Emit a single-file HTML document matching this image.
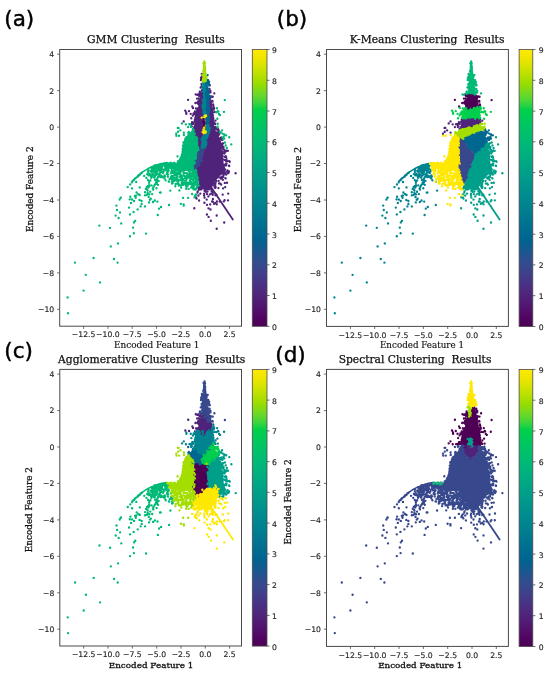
<!DOCTYPE html>
<html><head><meta charset="utf-8"><title>Clustering Results</title>
<style>html,body{margin:0;padding:0;background:#fff}svg{display:block}</style></head>
<body>
<svg width="550" height="673" viewBox="0 0 550 673">
<defs><linearGradient id="vir" x1="0" y1="1" x2="0" y2="0">
<stop offset="0.0000" stop-color="#4e0055"/>
<stop offset="0.0312" stop-color="#510562"/>
<stop offset="0.0625" stop-color="#52116d"/>
<stop offset="0.0938" stop-color="#511d76"/>
<stop offset="0.1250" stop-color="#4e297e"/>
<stop offset="0.1562" stop-color="#483385"/>
<stop offset="0.1875" stop-color="#413e89"/>
<stop offset="0.2188" stop-color="#37488c"/>
<stop offset="0.2500" stop-color="#29518e"/>
<stop offset="0.2812" stop-color="#125a90"/>
<stop offset="0.3125" stop-color="#006390"/>
<stop offset="0.3438" stop-color="#006b91"/>
<stop offset="0.3750" stop-color="#007391"/>
<stop offset="0.4062" stop-color="#007b90"/>
<stop offset="0.4375" stop-color="#008390"/>
<stop offset="0.4688" stop-color="#008a8f"/>
<stop offset="0.5000" stop-color="#00928d"/>
<stop offset="0.5312" stop-color="#009a8b"/>
<stop offset="0.5625" stop-color="#00a188"/>
<stop offset="0.5938" stop-color="#00a984"/>
<stop offset="0.6250" stop-color="#00b07e"/>
<stop offset="0.6562" stop-color="#00b778"/>
<stop offset="0.6875" stop-color="#00be6f"/>
<stop offset="0.7188" stop-color="#00c465"/>
<stop offset="0.7500" stop-color="#00ca59"/>
<stop offset="0.7812" stop-color="#00d04b"/>
<stop offset="0.8125" stop-color="#46d53a"/>
<stop offset="0.8438" stop-color="#73d923"/>
<stop offset="0.8750" stop-color="#97dd00"/>
<stop offset="0.9062" stop-color="#b7e000"/>
<stop offset="0.9375" stop-color="#d4e300"/>
<stop offset="0.9688" stop-color="#efe600"/>
<stop offset="1.0000" stop-color="#ffe800"/>
</linearGradient></defs>
<rect width="550" height="673" fill="#fff"/>
<g id="panel-a">
<path d="M202.6 128.6L205.1 128.6L205.1 117.6L202.6 117.6Z" fill="#4e0055" stroke="#4e0055" stroke-width="0.5"/>
<path d="M205.1 128.6L202.6 128.6L202.6 133.4L205.9 133.4L205.9 115.4L202.6 115.4L202.6 117.6L205.1 117.6Z" fill="#ffe800" stroke="#ffe800" stroke-width="0.5"/>
<path d="M203.6 77.5L203.4 81.6L206.2 81.6L206.2 78.7L206.0 77.6L204.6 70.3L204.6 70.2L204.4 68.2L204.2 70.2L204.2 70.2Z" fill="#a3de00" stroke="#a3de00" stroke-width="0.5"/>
<path d="M207.6 87.3L207.6 87.3L206.2 78.7L206.2 81.6L205.3 81.6L205.3 115.4L205.9 115.4L205.9 124.1L209.5 124.1L209.6 107.1L209.5 97.3Z" fill="#006890" stroke="#006890" stroke-width="0.5"/>
<path d="M203.1 87.4L202.5 89.6L202.5 115.4L202.6 115.4L205.3 115.4L205.3 81.6L203.4 81.6L203.1 87.2L203.1 87.3Z" fill="#008490" stroke="#008490" stroke-width="0.5"/>
<path d="M205.9 124.1L205.9 133.4L205.7 133.4L202.1 136.8L201.5 143.5L199.8 148.1L204.8 148.1L206.1 143.5L208.2 136.8L209.8 133.1L209.5 124.1Z" fill="#008490" stroke="#008490" stroke-width="0.5"/>
<path d="M199.8 148.1L196.8 156.9L194.8 163.5L193.0 170.1L196.8 170.1L200.1 163.5L202.8 156.9L204.8 148.1Z" fill="#37488c" stroke="#37488c" stroke-width="0.5"/>
<path d="M190.6 132.6L190.5 132.6L186.2 138.1L183.7 143.1L183.1 148.4L182.6 153.8L182.6 153.9L182.6 154.0L182.5 154.1L180.8 158.5L180.8 158.6L180.7 158.7L180.6 158.8L180.6 158.9L176.8 162.9L176.7 163.0L176.6 163.1L176.5 163.1L176.4 163.2L176.3 163.2L176.1 163.3L176.0 163.3L175.9 163.3L167.1 163.3L161.6 164.7L161.7 164.8L169.6 168.0L177.4 170.4L187.2 170.4L187.3 170.4L187.4 170.4L193.4 171.4L193.5 171.4L193.6 171.5L193.7 171.5L193.8 171.6L193.9 171.7L194.0 171.7L194.1 171.8L194.2 171.9L194.3 172.0L197.3 177.5L197.3 177.6L197.7 178.6L196.8 170.1L193.0 170.1L194.8 163.5L196.8 156.9L199.6 148.1L198.2 141.1L195.2 133.1L193.0 129.2Z" fill="#00b976" stroke="#00b976" stroke-width="0.5"/>
<path d="M194.6 126.6L194.6 126.7L194.6 126.8L194.5 126.9L194.5 127.0L194.4 127.1L194.4 127.2L193.0 129.2L195.2 133.1L198.2 141.1L199.6 148.1L196.8 156.9L199.8 148.1L201.5 143.5L202.1 136.8L205.7 133.4L202.6 133.4L202.6 128.6L202.6 117.6L202.6 115.4L202.5 115.4L202.5 89.6L200.5 97.8L198.6 107.3L198.6 107.4L194.9 120.7ZM204.8 189.0L208.9 189.8L211.5 187.5L211.6 185.8L211.6 185.7L211.6 185.6L211.7 185.4L213.9 180.0L213.9 179.9L214.0 179.8L214.1 179.7L214.2 179.6L214.3 179.6L219.8 175.2L219.8 175.1L223.7 172.1L224.7 168.5L223.1 162.2L223.1 162.0L222.2 153.9L221.1 148.5L219.6 141.5L217.9 137.9L217.9 137.8L215.7 132.3L215.7 132.3L213.6 126.5L213.5 126.4L213.5 126.3L213.5 126.2L213.0 120.2L211.8 107.3L209.6 97.8L209.6 97.7L209.5 97.3L209.6 107.1L209.5 124.1L209.8 133.1L208.2 136.8L206.1 143.5L204.8 148.1L202.8 156.9L200.1 163.5L196.8 170.1L197.7 178.6L200.2 184.4Z" fill="#50237b" stroke="#50237b" stroke-width="0.5"/>
<path d="M211.7 188.1L232.8 219.6" stroke="#50237b" stroke-width="1.8" stroke-linecap="round" fill="none"/>
<path d="M167.2 162.9L165.2 163.1L163.2 163.4L161.2 163.8L159.2 164.2L157.2 164.8L155.2 165.4L153.2 166.2L151.2 167.0L149.2 168.0L147.2 169.1L145.2 170.3L143.2 171.7L141.2 173.2" stroke="#00b976" stroke-width="1.5" stroke-linecap="round" fill="none"/>
<path d="M204.7 127.6h0M203.0 121.5h0M204.1 121.9h0M204.8 123.5h0M203.9 123.7h0M203.8 128.3h0" stroke="#4e0055" stroke-width="2.35" stroke-linecap="round" fill="none"/>
<path d="M218.6 174.9h0M212.0 185.2h0M198.5 110.3h0M199.5 102.3h0M213.2 119.5h0M223.4 165.2h0M214.8 179.6h0M198.8 104.2h0M217.6 177.5h0M199.7 182.7h0M212.4 182.5h0M195.7 121.9h0M214.2 126.9h0M219.8 174.2h0M223.9 165.2h0M223.3 170.1h0M223.0 164.8h0M212.4 108.5h0M196.0 117.9h0M207.0 189.3h0M204.7 189.3h0M213.2 118.7h0M193.6 129.3h0M220.2 146.0h0M217.7 175.5h0M213.0 121.3h0M212.4 118.2h0M195.9 120.9h0M196.5 113.6h0M224.1 171.1h0M217.9 138.8h0M213.0 119.3h0M197.7 179.1h0M198.5 108.7h0M199.5 99.7h0M222.0 159.2h0M220.5 143.6h0M218.6 140.0h0M195.7 125.6h0M220.4 144.1h0M193.9 128.3h0M208.7 92.1h0M197.6 110.4h0M220.0 146.8h0M218.8 142.1h0M195.4 117.7h0M210.4 187.5h0M221.5 157.6h0M202.4 185.9h0M213.6 179.8h0M210.9 107.9h0M218.3 141.0h0M211.2 108.4h0M209.5 188.6h0M211.0 186.6h0M199.5 105.4h0M213.0 115.3h0M212.5 117.0h0M224.6 170.2h0M201.0 183.9h0M195.2 119.3h0M216.2 132.4h0M217.8 137.0h0M195.7 115.8h0M200.6 103.1h0M200.6 96.4h0M217.4 176.3h0M210.1 188.4h0M213.8 127.1h0M197.9 108.3h0M210.2 98.0h0M196.0 117.5h0M219.4 145.6h0M201.1 95.0h0M214.6 178.5h0M197.3 114.5h0M218.7 139.6h0M221.7 156.0h0M202.0 185.8h0M212.4 113.1h0M222.2 173.2h0M200.8 183.8h0M217.2 135.4h0M194.6 121.4h0M206.2 189.4h0M194.6 121.6h0M197.0 111.2h0M219.7 145.7h0M215.9 178.7h0M210.6 187.6h0M197.2 114.7h0M213.5 179.9h0M219.8 143.2h0M201.5 93.2h0M212.5 108.3h0M200.5 183.6h0M195.4 117.8h0M200.0 102.1h0M201.8 94.8h0M213.7 128.3h0M200.1 181.2h0M212.4 120.3h0M200.1 182.4h0M201.7 185.9h0M213.1 124.5h0M199.6 183.2h0M222.2 161.8h0M205.3 189.1h0M200.1 103.3h0M202.4 92.8h0M221.2 152.5h0M224.3 165.0h0M222.1 152.5h0M212.1 114.8h0M211.0 110.7h0M213.0 117.9h0M196.4 114.2h0M217.1 138.8h0M224.2 170.4h0M222.5 158.8h0M202.2 91.4h0M195.4 121.4h0M194.3 128.3h0M196.6 112.8h0M212.8 122.3h0M217.8 175.6h0M210.1 99.1h0M212.3 123.9h0M199.4 105.5h0M222.4 173.0h0M224.5 169.9h0M221.0 152.0h0M194.1 128.5h0M200.2 100.3h0M211.1 187.9h0M210.1 187.3h0M221.8 157.3h0M217.1 176.8h0M210.5 187.5h0M211.8 109.5h0M195.4 124.2h0M216.3 136.5h0M217.4 139.6h0M200.3 104.6h0M221.3 147.4h0M221.9 161.1h0M196.8 118.0h0M195.1 126.9h0M211.6 116.0h0M220.4 174.2h0M195.0 126.1h0M222.4 161.3h0M222.6 173.4h0M220.9 146.1h0M197.7 112.9h0M197.1 176.5h0M198.4 180.1h0M216.7 137.1h0M212.6 182.8h0M196.4 118.3h0M194.9 119.5h0M210.6 188.1h0M221.6 152.0h0M212.8 184.2h0M199.1 108.2h0M221.7 150.9h0M218.2 140.0h0M213.6 122.2h0M197.2 175.1h0M223.6 165.3h0M215.4 133.7h0M208.0 188.6h0M210.0 96.6h0M215.3 178.5h0M211.6 185.0h0M212.2 109.2h0M217.4 136.0h0M218.6 138.3h0M221.8 158.3h0M222.1 152.2h0M210.8 101.3h0M212.0 182.9h0M212.0 119.7h0M223.9 167.7h0M220.0 141.7h0M218.1 137.7h0M216.5 133.4h0M214.6 178.6h0M223.4 172.1h0M200.6 185.2h0M212.9 117.4h0M194.7 128.8h0M201.9 90.2h0M221.9 173.4h0M210.7 103.7h0M200.1 101.0h0M200.2 183.8h0M214.4 129.8h0M219.0 142.5h0M196.8 117.1h0M212.6 181.5h0M211.2 111.8h0M218.2 175.1h0M213.6 181.4h0M220.6 151.6h0M218.9 142.3h0M210.7 106.9h0M212.6 112.6h0M221.8 154.6h0M211.5 182.9h0M212.5 181.1h0M215.2 178.8h0M197.8 112.2h0M210.9 105.9h0M211.5 110.4h0M215.3 178.7h0M194.9 127.1h0M194.7 127.3h0M214.4 178.6h0M220.6 151.2h0M211.9 119.9h0M223.8 167.6h0M212.9 125.5h0M214.8 179.1h0M212.4 110.7h0M213.3 117.8h0M199.8 183.4h0M199.5 106.6h0M222.4 156.5h0M219.1 143.2h0M201.8 96.0h0M218.3 176.5h0M225.0 169.5h0M214.3 178.5h0M195.5 124.7h0M212.4 113.4h0M220.8 148.2h0M198.0 110.1h0M213.9 180.8h0M197.1 110.9h0M203.5 188.0h0M222.5 153.3h0M214.8 129.4h0M209.1 189.2h0M219.1 144.4h0M211.6 116.3h0M219.3 174.3h0M201.0 99.1h0M201.0 94.8h0M212.4 109.4h0M218.8 139.3h0M213.1 121.2h0M202.2 91.1h0M211.3 184.8h0M221.1 151.9h0M223.2 164.9h0M209.9 98.6h0M212.5 114.8h0M194.4 126.8h0M210.1 187.8h0M213.8 178.7h0M222.5 155.8h0M202.5 91.3h0M216.2 136.6h0M215.3 132.2h0M196.1 108.6h0M218.7 180.8h0M197.6 102.5h0M211.6 189.6h0M213.1 104.5h0M204.6 190.7h0M199.3 186.8h0M215.6 186.9h0M223.1 143.3h0M201.2 188.0h0M198.3 94.4h0M215.3 124.0h0M198.7 184.8h0M221.4 139.6h0M220.4 139.0h0M212.7 192.1h0M213.3 105.3h0M225.8 165.4h0M195.7 94.3h0M201.5 187.9h0M214.1 108.2h0M214.3 183.5h0M201.0 187.8h0M222.1 144.2h0M201.8 188.7h0M201.0 189.4h0M225.6 156.2h0M211.6 190.9h0M222.3 145.7h0M227.5 170.3h0M216.9 129.5h0M201.8 188.5h0M197.8 103.4h0M195.5 103.0h0M214.7 112.0h0M197.2 94.8h0M221.3 137.5h0M223.4 146.8h0M201.6 188.2h0M224.4 151.8h0M198.1 101.3h0M198.8 98.3h0M219.9 138.3h0M199.2 95.9h0M206.0 191.8h0M225.9 164.7h0M216.3 128.8h0M215.7 180.5h0M207.5 191.6h0M193.0 108.0h0M220.5 178.1h0M224.7 152.0h0M194.9 111.4h0M213.5 106.9h0M225.7 164.7h0M220.2 177.4h0M212.4 101.0h0M189.0 111.1h0M202.0 75.7h0M195.7 111.9h0M193.0 122.6h0M192.3 106.5h0M186.2 112.4h0M199.7 93.5h0M192.8 115.5h0M200.9 80.1h0M199.7 92.9h0M200.7 87.5h0M195.4 103.1h0M199.8 91.6h0M201.5 86.5h0M193.6 113.5h0M194.6 113.8h0M190.7 113.8h0M201.8 74.0h0M191.3 118.2h0M191.8 126.3h0M192.5 122.5h0M201.7 77.2h0M201.1 77.6h0M201.1 78.9h0M186.3 113.8h0M196.0 108.5h0M201.5 84.1h0M191.2 126.3h0M199.0 95.6h0M193.0 123.9h0M199.9 92.3h0M185.2 110.6h0M188.1 99.8h0M198.0 101.9h0M197.1 98.6h0M215.5 120.6h0M210.0 91.1h0M218.2 129.1h0M209.8 85.2h0M212.6 101.6h0M211.3 96.5h0M214.3 93.3h0M213.9 108.0h0M213.7 109.4h0M213.3 105.7h0M210.4 90.9h0M214.8 123.3h0M218.5 131.5h0M209.5 88.8h0M212.7 96.7h0M210.4 92.4h0M218.7 135.0h0M224.0 149.7h0M222.2 176.6h0M222.8 179.7h0M225.6 178.4h0M225.2 173.0h0M216.8 129.3h0M224.4 159.8h0M216.6 129.0h0M224.5 150.1h0M229.0 171.5h0M219.5 133.2h0M226.1 174.6h0M224.8 156.8h0M226.6 150.6h0M224.3 151.2h0M224.0 174.0h0M221.6 178.4h0M223.6 174.9h0M218.4 130.2h0M226.4 163.5h0M226.3 165.2h0M225.4 178.1h0M227.9 150.8h0M225.8 160.4h0M226.8 171.6h0M222.3 139.9h0M225.5 151.3h0M217.8 132.5h0M218.7 133.9h0M218.7 130.6h0M218.1 133.4h0M227.4 161.1h0M227.8 173.2h0M223.5 147.5h0M228.4 172.9h0M223.2 176.7h0M235.6 173.2h0M215.6 127.4h0M225.7 151.6h0M219.0 134.1h0M225.9 160.8h0M217.1 128.6h0M227.0 182.7h0M226.2 157.1h0M225.9 163.7h0M226.5 159.1h0M226.0 164.0h0M229.0 165.6h0M224.8 182.9h0M224.5 153.2h0M220.7 178.6h0M224.4 153.5h0M223.0 148.7h0M215.7 127.3h0M219.0 132.7h0M222.5 143.3h0M229.7 161.7h0M229.2 166.0h0M224.1 173.7h0M191.5 123.8h0M183.7 121.4h0M192.1 122.2h0M199.0 189.5h0M199.4 187.8h0M198.2 187.8h0M200.1 187.7h0M197.7 185.5h0M215.5 194.1h0M215.6 182.8h0M207.0 194.1h0M219.8 201.5h0M214.7 187.3h0M197.7 191.4h0M204.4 202.7h0M216.2 180.9h0M199.4 188.6h0M211.5 193.3h0M229.2 161.1h0M204.2 193.7h0M212.9 192.8h0M221.1 184.6h0M196.0 197.4h0M209.9 194.3h0M225.2 187.1h0M216.6 194.9h0M212.2 191.3h0M212.9 201.6h0M214.4 185.9h0M215.3 184.8h0M219.1 183.4h0M223.1 188.3h0M198.9 186.5h0M220.5 183.7h0M206.7 199.6h0M215.5 195.2h0M215.2 187.9h0M218.4 188.1h0M228.2 193.6h0M197.5 192.6h0M214.9 187.6h0M204.1 195.5h0M215.4 203.0h0M199.1 200.5h0M216.8 204.3h0M200.3 193.6h0M212.7 194.8h0M210.2 204.4h0M224.2 222.5h0M208.4 196.4h0M208.5 208.3h0M206.9 214.5h0M217.0 201.5h0M212.1 201.5h0M207.0 204.8h0M216.7 215.5h0M228.0 200.3h0M223.8 201.3h0M222.7 194.6h0M204.6 197.6h0M208.6 216.9h0M210.8 220.7h0M194.3 208.2h0M224.6 200.2h0M196.6 198.5h0M212.9 199.0h0M198.4 195.5h0M210.5 209.5h0M216.7 228.7h0M214.0 203.7h0M211.2 128.4h0M196.4 134.2h0M201.3 98.8h0M202.4 113.4h0M201.1 114.6h0M199.4 142.8h0M203.4 157.2h0M203.8 133.7h0M210.3 122.2h0M201.6 128.4h0M202.2 105.2h0M201.6 125.9h0M199.8 142.4h0M210.5 115.3h0M198.6 173.3h0M205.8 149.5h0M197.7 170.8h0M202.0 97.3h0M199.4 144.2h0M207.4 144.4h0M201.4 97.8h0M202.7 158.5h0M198.3 170.2h0M210.2 108.2h0M210.3 106.8h0M201.7 115.1h0M206.4 145.4h0M198.6 173.6h0M196.1 135.4h0M202.5 160.5h0M198.7 138.5h0M197.1 138.1h0M197.1 138.4h0M210.2 115.6h0M210.8 103.3h0M197.2 137.9h0M208.9 119.1h0M198.6 175.6h0M201.3 97.5h0M210.6 122.5h0M201.7 131.4h0M199.3 145.5h0M198.4 137.6h0M199.9 146.4h0M210.2 115.3h0M205.3 152.6h0M202.0 95.1h0M198.9 176.8h0M196.1 132.7h0M202.2 104.6h0M200.7 164.9h0M201.7 118.9h0M193.4 129.6h0M199.0 167.0h0M199.5 145.0h0M200.8 163.5h0M210.1 110.1h0M197.4 168.4h0M209.8 110.8h0M201.5 96.3h0M207.9 140.2h0M210.9 104.5h0M197.5 135.2h0M199.7 143.5h0M201.2 125.0h0M204.7 154.3h0M201.8 140.5h0M203.2 153.6h0" stroke="#50237b" stroke-width="2.35" stroke-linecap="round" fill="none"/>
<path d="M202.4 153.2h0M200.5 159.5h0M200.6 148.7h0M200.8 159.3h0M199.1 150.3h0M200.4 149.6h0M198.8 152.5h0M201.5 156.7h0M201.3 158.2h0M200.3 160.4h0M196.6 167.8h0M203.2 151.6h0M199.0 165.5h0M198.8 153.6h0M198.6 154.8h0M201.3 161.1h0M194.7 165.9h0M197.2 166.3h0M203.0 151.6h0M200.5 158.9h0M195.0 166.5h0M195.4 165.7h0M198.5 164.2h0M198.2 155.9h0M199.2 153.6h0M198.6 152.4h0M201.8 160.7h0M195.7 160.7h0M199.4 164.0h0M202.3 155.4h0M198.9 151.5h0M202.8 152.3h0" stroke="#37488c" stroke-width="2.35" stroke-linecap="round" fill="none"/>
<path d="M209.9 96.1h0M207.0 80.7h0M207.8 89.0h0M207.3 87.3h0M206.1 84.7h0M207.4 90.8h0M208.1 95.1h0M207.2 91.6h0M206.9 89.2h0M206.5 83.6h0M206.0 80.3h0M208.0 94.6h0M208.7 95.8h0M206.2 82.9h0M207.8 91.7h0M208.1 93.5h0M206.2 81.6h0M207.5 88.5h0M206.7 84.0h0M208.9 95.4h0M206.4 79.3h0M205.4 77.3h0M208.6 93.1h0M206.4 80.6h0M207.7 89.0h0M206.2 85.0h0M206.6 82.7h0M209.3 98.1h0M206.0 80.4h0M208.1 96.0h0M206.0 84.3h0M206.3 82.1h0M207.6 75.1h0M208.8 83.3h0M208.9 84.0h0M208.4 81.6h0M209.0 81.7h0M208.2 80.1h0M208.9 85.2h0M209.0 83.1h0M205.3 79.3h0M206.6 86.2h0M205.5 81.0h0M207.3 83.9h0M204.5 83.9h0M208.0 96.7h0M206.0 88.2h0M209.4 111.0h0M207.4 120.2h0M205.6 92.2h0M209.1 116.7h0M208.8 116.5h0M205.9 108.6h0M205.9 94.7h0M205.9 85.1h0M209.0 108.7h0M208.0 122.1h0M206.7 92.0h0M205.8 97.7h0M206.6 116.6h0M207.4 116.5h0M209.5 98.4h0M205.9 93.6h0M209.0 108.1h0M208.4 117.7h0M208.7 98.1h0M204.5 93.1h0M209.4 98.5h0M206.7 103.8h0M206.6 122.4h0M209.5 110.1h0M206.2 85.8h0M206.5 110.5h0M206.8 108.5h0M206.7 121.2h0M205.9 116.5h0M208.5 95.7h0M209.4 119.8h0M206.9 95.9h0M208.0 90.8h0M206.2 121.8h0M206.2 119.2h0" stroke="#006890" stroke-width="2.35" stroke-linecap="round" fill="none"/>
<path d="M203.3 89.4h0M204.4 85.8h0M202.7 88.5h0M204.4 84.3h0M203.0 91.8h0M204.1 81.4h0M203.1 85.8h0M204.1 86.5h0M203.3 87.6h0M203.5 85.4h0M204.2 86.8h0M202.8 82.6h0M203.9 87.6h0M204.2 82.8h0M203.6 87.3h0M203.4 87.2h0M204.2 83.9h0M204.1 87.1h0M203.6 83.6h0M203.7 86.0h0M204.4 83.8h0M202.6 86.7h0M203.6 82.2h0M204.1 86.5h0M203.9 92.1h0M203.6 136.0h0M208.8 132.4h0M202.3 138.5h0M204.3 84.8h0M206.8 128.8h0M207.4 131.1h0M202.4 147.8h0M206.7 138.0h0M206.6 125.4h0M204.5 101.5h0M204.8 146.0h0M203.0 107.9h0M204.1 111.5h0M201.7 145.4h0M206.2 134.2h0M206.2 129.4h0M201.9 139.7h0M202.9 99.9h0M205.4 144.0h0M203.8 95.6h0M205.0 146.1h0M203.4 103.5h0M208.2 126.1h0M204.9 105.5h0M202.8 104.7h0M204.7 103.2h0M210.0 128.1h0M205.2 147.4h0M208.2 127.9h0M208.1 125.4h0M209.5 130.2h0M209.1 128.3h0M206.5 142.5h0M207.5 135.9h0M204.1 100.1h0M202.3 106.1h0M204.5 112.7h0M206.8 130.4h0M206.1 144.9h0M203.2 142.0h0M202.6 137.5h0M207.0 137.0h0M204.4 115.9h0M201.7 146.2h0M203.9 87.9h0M203.9 90.8h0M205.2 99.9h0M204.7 107.2h0M201.9 140.9h0M204.9 103.2h0M201.5 139.1h0M207.5 125.3h0M206.4 137.8h0M204.1 106.5h0M204.1 94.4h0M204.9 110.8h0M205.9 129.8h0M204.8 88.0h0M206.7 129.3h0M205.1 144.7h0M203.5 105.7h0M203.5 112.8h0" stroke="#008490" stroke-width="2.35" stroke-linecap="round" fill="none"/>
<path d="M185.2 140.4h0M193.6 171.1h0M181.3 157.0h0M184.7 141.6h0M181.5 169.8h0M189.8 171.2h0M197.8 178.1h0M184.1 147.1h0M184.6 144.5h0M185.2 140.7h0M174.1 163.9h0M180.3 158.3h0M184.2 144.0h0M180.9 170.5h0M181.8 155.1h0M189.2 170.0h0M188.5 170.4h0M184.4 169.5h0M172.1 167.7h0M174.2 168.5h0M192.8 171.7h0M163.4 164.7h0M161.4 165.0h0M181.8 156.2h0M180.7 159.1h0M179.3 160.7h0M186.4 137.3h0M174.5 163.5h0M183.9 143.5h0M174.2 162.9h0M184.1 170.6h0M196.6 175.0h0M169.7 163.2h0M172.6 163.7h0M183.7 152.3h0M183.6 143.9h0M174.6 164.5h0M183.5 170.4h0M181.9 158.6h0M186.4 169.2h0M178.4 161.6h0M168.2 166.4h0M177.5 163.9h0M189.1 136.2h0M183.0 145.9h0M185.8 137.7h0M185.9 138.1h0M194.9 172.0h0M187.8 169.8h0M185.4 141.8h0M196.9 176.8h0M175.0 164.4h0M174.5 170.0h0M170.9 167.2h0M178.7 161.4h0M185.4 140.8h0M186.0 169.8h0M195.8 174.4h0M192.8 131.4h0M164.1 164.4h0M179.1 161.8h0M178.5 170.4h0M174.3 169.9h0M170.4 167.4h0M179.9 161.3h0M182.6 151.4h0M190.0 133.5h0M196.4 175.1h0M192.8 129.0h0M165.6 164.9h0M170.5 168.1h0M188.5 134.6h0M171.1 162.8h0M165.2 165.6h0M165.8 166.9h0M182.0 169.4h0M166.4 167.2h0M177.4 169.3h0M182.7 153.4h0M180.2 169.9h0M188.5 135.2h0M183.5 142.3h0M185.4 140.4h0M189.6 171.1h0M185.1 139.4h0M185.3 141.7h0M182.4 170.6h0M183.1 148.2h0M188.5 137.0h0M175.2 169.9h0M182.9 150.2h0M182.7 148.8h0M165.4 166.8h0M182.5 155.3h0M178.1 162.3h0M184.4 144.4h0M188.9 171.1h0M193.9 172.6h0M193.0 130.6h0M171.8 168.0h0M182.0 169.9h0M182.3 154.3h0M180.4 170.7h0M179.9 160.0h0M179.3 161.6h0M162.8 165.1h0M174.6 163.8h0M198.2 181.2h0M167.7 167.3h0M165.1 165.8h0M193.7 130.0h0M165.0 165.9h0M163.9 164.1h0M185.1 169.8h0M174.6 168.3h0M176.7 164.4h0M165.6 163.2h0M196.6 174.0h0M182.8 152.9h0M166.9 162.8h0M186.5 139.7h0M169.8 163.6h0M165.5 164.0h0M170.5 163.1h0M186.5 140.0h0M189.1 134.6h0M164.5 163.6h0M178.9 169.6h0M175.3 163.6h0M169.9 164.2h0M175.7 168.8h0M192.8 130.3h0M187.4 136.8h0M163.2 165.2h0M192.0 132.2h0M177.9 161.4h0M170.1 163.7h0M174.1 162.8h0M197.3 179.1h0M182.5 152.9h0M186.8 139.0h0M190.1 135.1h0M189.9 134.8h0M193.0 171.8h0M186.2 139.0h0M168.6 167.2h0M184.2 145.6h0M190.0 133.4h0M183.9 144.4h0M186.9 137.4h0M186.5 137.9h0M197.5 177.7h0M195.4 174.4h0M170.9 162.9h0M175.8 170.3h0M197.2 177.0h0M166.5 163.8h0M176.5 164.3h0M195.0 181.5h0M167.1 173.0h0M193.6 174.7h0M173.9 172.4h0M192.0 172.9h0M194.5 178.4h0M198.2 184.3h0M174.2 171.0h0M172.1 170.6h0M167.9 171.0h0M177.0 172.5h0M195.3 182.1h0M176.2 172.9h0M196.8 180.5h0M194.6 176.4h0M179.2 171.9h0M193.9 175.1h0M193.4 174.8h0M192.2 174.6h0M192.4 173.5h0M196.1 181.2h0M168.3 169.4h0M224.9 142.5h0M181.9 123.4h0M189.3 124.2h0M185.9 124.3h0M191.1 126.9h0M188.3 132.7h0M188.8 132.0h0M224.0 111.8h0M217.8 123.7h0M219.0 114.0h0M217.0 108.2h0M217.6 127.4h0M217.3 118.7h0M218.3 111.5h0M224.8 100.1h0M220.0 115.0h0M222.0 130.3h0M216.5 112.2h0M217.9 111.1h0M224.2 138.5h0M225.7 145.4h0M223.5 136.7h0M217.6 126.7h0M226.8 148.0h0M226.1 135.3h0M224.6 135.1h0M223.1 138.6h0M224.3 134.5h0M222.7 138.2h0M229.2 137.2h0M220.7 132.3h0M222.5 133.6h0M220.0 132.0h0M231.3 144.3h0M178.0 131.7h0M188.1 127.1h0M176.4 135.7h0M177.8 127.9h0M183.8 132.6h0M183.9 135.0h0M179.0 135.7h0M190.3 124.3h0M178.5 127.9h0M176.2 133.7h0M180.3 130.3h0M159.4 173.7h0M186.4 182.9h0M174.9 172.4h0M172.9 172.1h0M186.6 179.3h0M189.1 176.8h0M172.0 170.6h0M193.4 187.0h0M168.2 174.3h0M171.8 179.0h0M172.6 180.1h0M160.6 166.6h0M161.5 172.1h0M195.4 177.8h0M177.7 180.8h0M192.2 173.9h0M194.4 188.4h0M196.2 188.8h0M174.5 179.7h0M182.0 178.2h0M172.0 170.3h0M193.0 179.9h0M191.1 175.1h0M190.9 178.2h0M171.3 172.7h0M189.9 173.8h0M177.9 181.0h0M186.0 185.6h0M161.3 171.0h0M176.2 179.8h0M166.3 170.5h0M153.8 168.4h0M182.2 179.2h0M180.5 177.3h0M193.9 189.3h0M157.1 172.2h0M174.8 172.7h0M194.2 174.6h0M155.4 169.3h0M185.3 176.8h0M160.8 177.1h0M186.4 177.2h0M159.8 170.8h0M167.5 174.6h0M193.8 189.3h0M194.5 177.3h0M186.3 184.1h0M171.9 170.1h0M174.3 178.0h0M163.6 171.5h0M198.7 185.6h0M183.1 184.7h0M174.6 173.6h0M175.9 175.5h0M192.9 179.4h0M162.6 177.0h0M196.9 182.6h0M195.3 178.9h0M176.5 177.8h0M165.6 180.3h0M159.9 173.1h0M188.6 184.1h0M180.5 172.0h0M194.1 181.6h0M173.4 180.5h0M172.7 182.9h0M165.1 176.3h0M180.2 176.2h0M172.1 182.0h0M173.2 176.4h0M186.6 184.1h0M197.2 186.6h0M168.8 181.5h0M176.2 175.1h0M191.1 187.6h0M158.6 164.8h0M196.5 179.5h0M180.9 180.0h0M175.6 184.0h0M176.3 180.5h0M164.5 178.4h0M157.1 170.9h0M182.5 179.5h0M180.7 174.3h0M175.6 178.8h0M182.5 181.3h0M171.0 173.3h0M179.5 180.3h0M182.4 175.8h0M155.7 174.1h0M186.8 176.4h0M177.3 180.1h0M169.7 179.0h0M186.1 177.8h0M156.4 167.9h0M182.7 179.7h0M183.7 175.4h0M187.4 174.4h0M177.2 183.5h0M165.3 169.4h0M191.9 182.5h0M179.0 184.5h0M166.8 173.9h0M191.3 178.7h0M193.3 183.3h0M165.3 168.5h0M156.0 174.4h0M174.2 180.8h0M187.3 182.6h0M162.9 172.9h0M166.1 168.4h0M159.2 167.2h0M181.7 182.7h0M196.0 180.7h0M193.1 188.5h0M171.6 171.4h0M172.4 179.5h0M185.1 173.1h0M191.2 178.7h0M168.7 170.6h0M186.0 176.2h0M179.1 172.2h0M174.4 175.2h0M161.5 176.0h0M178.1 182.7h0M179.6 173.7h0M187.6 176.3h0M162.4 172.0h0M180.7 185.3h0M175.7 173.6h0M158.2 169.8h0M157.6 165.7h0M159.0 169.0h0M161.0 170.1h0M195.7 183.4h0M177.5 176.8h0M190.6 182.0h0M185.9 180.6h0M190.4 178.8h0M187.6 178.0h0M160.9 175.4h0M187.6 174.4h0M185.6 182.0h0M164.5 175.4h0M172.0 179.4h0M172.7 176.4h0M191.8 186.1h0M192.0 183.1h0M169.2 181.6h0M165.9 168.4h0M190.4 183.9h0M162.1 171.7h0M177.9 179.4h0M177.5 174.7h0M193.5 173.5h0M183.5 179.2h0M196.2 188.3h0M184.6 184.1h0M185.2 180.9h0M194.5 181.3h0M161.6 171.8h0M193.7 174.3h0M188.5 177.3h0M179.6 173.9h0M194.5 185.6h0M163.8 176.5h0M180.4 171.8h0M161.4 171.9h0M161.6 166.8h0M184.9 178.0h0M168.2 171.5h0M195.6 177.3h0M167.9 176.7h0M189.4 172.4h0M159.6 175.8h0M177.5 156.3h0M191.2 176.5h0M195.0 183.6h0M182.2 183.3h0M181.9 176.7h0M172.4 177.0h0M177.8 179.9h0M188.5 174.9h0M193.1 176.4h0M190.2 176.4h0M180.0 174.1h0M190.5 179.9h0M189.7 174.0h0M172.2 179.9h0M172.4 181.7h0M194.4 182.1h0M181.8 184.2h0M175.3 186.2h0M181.2 179.3h0M196.6 184.4h0M184.5 176.1h0M195.1 195.5h0M183.5 173.0h0M187.6 185.8h0M171.6 175.8h0M195.7 181.5h0M174.9 172.9h0M194.3 182.7h0M180.0 177.2h0M188.9 175.9h0M177.1 175.3h0M185.4 181.4h0M181.7 175.9h0M177.5 179.2h0M183.6 182.9h0M194.5 197.2h0M182.7 180.8h0M192.1 194.0h0M177.6 180.3h0M188.2 183.0h0M192.2 173.8h0M193.0 174.9h0M193.6 177.1h0M173.2 173.0h0M183.7 205.5h0M178.8 172.8h0M196.9 182.9h0M186.5 177.3h0M180.3 177.1h0M189.9 175.5h0M181.6 184.9h0M195.5 183.8h0M188.9 182.7h0M192.9 179.5h0M171.1 177.0h0M194.3 184.8h0M174.4 173.5h0M187.3 184.2h0M190.6 181.9h0M189.8 180.3h0M190.3 173.5h0M188.3 176.6h0M193.6 177.6h0M183.1 197.8h0M186.8 173.1h0M191.6 184.2h0M188.1 197.8h0M180.8 203.8h0M178.8 185.5h0M186.0 185.4h0M170.3 190.6h0M186.5 187.0h0M187.4 184.8h0M181.2 187.5h0M156.5 188.2h0M195.4 189.5h0M172.0 183.6h0M183.6 204.3h0M160.6 192.5h0M152.8 188.6h0M149.9 199.7h0M150.2 191.7h0M196.0 194.4h0M151.5 185.4h0M154.3 185.4h0M192.5 184.6h0M147.6 190.6h0M188.6 188.9h0M186.1 188.8h0M192.8 185.5h0M179.4 190.4h0M159.9 192.6h0M132.6 180.8h0M119.6 199.6h0M131.9 182.2h0M138.4 175.7h0M139.0 175.0h0M137.3 176.8h0M140.6 173.6h0M138.2 175.6h0M134.6 178.8h0M120.9 197.6h0M130.2 184.4h0M139.9 174.5h0M135.7 177.9h0M137.8 176.4h0M133.9 180.0h0M139.2 175.1h0M135.4 178.3h0M127.7 187.1h0M120.5 197.8h0M158.8 166.3h0M159.8 167.2h0M148.0 180.1h0M166.1 164.0h0M156.5 166.2h0M162.0 165.6h0M147.1 174.1h0M149.3 194.3h0M167.5 163.2h0M149.3 181.2h0M151.4 167.6h0M148.4 187.5h0M151.0 170.9h0M136.2 182.0h0M159.5 169.3h0M136.2 195.6h0M157.8 166.2h0M165.7 163.2h0M145.0 195.3h0M156.6 173.0h0M164.2 164.2h0M157.9 177.1h0M164.3 163.5h0M161.1 167.5h0M157.7 170.4h0M155.5 167.6h0M156.9 170.5h0M153.0 169.9h0M162.3 168.8h0M160.6 164.1h0M158.0 184.8h0M163.7 164.2h0M154.8 200.5h0M163.2 164.9h0M147.4 190.0h0M157.4 165.7h0M158.3 166.0h0M156.6 172.5h0M152.8 175.5h0M165.0 166.8h0M155.2 166.9h0M138.3 194.1h0M153.4 168.9h0M149.0 174.5h0M135.7 197.8h0M167.2 163.6h0M129.7 199.3h0M150.8 176.3h0M155.3 171.9h0M161.1 171.3h0M161.8 164.1h0M156.3 165.3h0M156.1 183.7h0M154.5 170.2h0M158.6 180.9h0M155.7 165.5h0M153.2 189.5h0M130.3 196.7h0M160.5 167.8h0M152.3 176.2h0M148.0 186.1h0M158.1 165.6h0M155.0 166.6h0M164.7 163.6h0M160.0 170.3h0M139.5 200.0h0M154.4 165.6h0M161.3 167.9h0M149.1 182.8h0M152.5 173.6h0M153.4 187.1h0M157.1 182.6h0M160.3 164.5h0M163.5 164.3h0M148.5 175.2h0M165.1 166.3h0M154.3 172.4h0M159.0 166.8h0M151.3 177.7h0M149.1 186.2h0M156.3 165.8h0M155.9 182.5h0M152.6 174.1h0M163.9 169.9h0M157.0 168.7h0M161.6 163.8h0M165.1 163.9h0M151.3 177.8h0M145.0 192.2h0M159.9 165.7h0M149.2 185.1h0M152.5 168.0h0M141.9 172.7h0M150.4 170.8h0M156.1 174.8h0M148.5 194.0h0M148.2 169.7h0M132.0 188.3h0M156.9 169.8h0M132.0 199.5h0M136.6 192.5h0M155.4 173.0h0M152.3 170.9h0M165.9 163.1h0M144.2 175.9h0M160.3 165.9h0M150.3 175.1h0M156.0 171.3h0M160.3 177.1h0M160.2 168.2h0M160.4 167.0h0M159.5 175.7h0M156.9 169.4h0M161.5 164.2h0M160.8 164.3h0M161.1 164.2h0M156.5 166.0h0M151.7 168.7h0M156.8 165.9h0M148.0 171.7h0M155.3 166.7h0M154.0 167.1h0M159.1 165.2h0M152.1 168.7h0M163.1 163.8h0M161.0 164.1h0M148.9 174.1h0M139.7 187.4h0M160.0 165.4h0M156.1 168.0h0M162.4 164.1h0M155.6 168.3h0M135.0 195.9h0M149.5 173.6h0M151.4 171.8h0M146.4 177.9h0M151.2 171.6h0M158.6 166.4h0M161.7 164.9h0M139.7 195.0h0M151.0 175.0h0M155.1 170.3h0M161.1 166.4h0M154.9 170.0h0M153.8 171.6h0M153.9 171.8h0M160.6 166.3h0M158.4 169.4h0M150.4 180.3h0M153.8 175.1h0M159.8 167.3h0M146.9 187.0h0M157.9 168.8h0M145.9 188.9h0M159.0 168.5h0M154.6 177.3h0M161.4 168.5h0M161.3 168.2h0M161.5 167.5h0M156.0 174.4h0M154.2 177.6h0M154.9 175.9h0M146.8 194.8h0M147.6 193.0h0M156.4 173.5h0M161.9 166.8h0M155.1 179.9h0M157.7 174.4h0M160.2 170.9h0M160.9 170.0h0M155.2 179.9h0M148.7 197.0h0M162.0 168.4h0M152.1 194.1h0M156.6 180.6h0M155.1 184.3h0M150.8 198.7h0M157.2 178.8h0M157.4 178.4h0M159.2 175.3h0M68.0 313.2h0M67.6 297.4h0M83.6 290.6h0M100.0 282.4h0M85.8 274.8h0M75.0 262.6h0M93.6 258.0h0M117.6 262.6h0M114.0 259.0h0M110.8 246.4h0M118.0 243.4h0M99.4 225.6h0M110.0 227.8h0M130.0 236.2h0M133.8 233.2h0M146.0 233.6h0M133.0 227.6h0M121.2 223.4h0M134.0 222.4h0M135.2 220.8h0M118.6 218.0h0M115.6 215.6h0M130.0 214.4h0M157.8 215.0h0M120.0 212.4h0M133.6 212.0h0M117.0 210.0h0M137.6 209.4h0M159.0 208.6h0M129.0 207.6h0M161.0 207.0h0M140.6 206.4h0M145.0 206.4h0M116.4 205.6h0M141.6 204.0h0M131.0 203.0h0M149.0 202.4h0M153.0 202.0h0M157.4 201.6h0M134.0 201.0h0M141.6 201.0h0M169.0 205.0h0M198.0 147.4h0M197.3 138.7h0M196.0 172.8h0M194.0 162.4h0M192.9 167.5h0M196.3 136.8h0M196.3 171.0h0M194.6 134.0h0M195.7 157.1h0M198.4 149.5h0M195.8 136.9h0M193.5 130.6h0M194.1 171.0h0M198.3 150.0h0M194.8 133.6h0M193.1 132.1h0M196.6 176.0h0M195.2 159.1h0M195.5 169.9h0M195.1 162.3h0M192.3 167.8h0M196.1 139.6h0" stroke="#00b976" stroke-width="2.35" stroke-linecap="round" fill="none"/>
<path d="M206.5 77.0h0M204.2 76.6h0M204.8 76.7h0M203.4 80.4h0M205.7 81.1h0M203.5 76.5h0M202.9 81.2h0M203.2 76.2h0M204.0 74.4h0M204.3 69.3h0M205.0 71.4h0M205.3 72.1h0M203.4 78.9h0M203.1 79.2h0M204.9 75.1h0M204.3 69.7h0M203.7 71.3h0M203.8 68.8h0M204.8 73.5h0M204.7 75.3h0M204.5 76.5h0M206.3 77.4h0M205.8 74.3h0M203.1 81.5h0M205.2 75.9h0M202.9 80.3h0M204.6 65.6h0M203.7 71.2h0M205.5 78.3h0M204.4 68.0h0M204.5 65.3h0M204.2 77.4h0M204.6 72.5h0M204.1 79.8h0M205.2 78.1h0M203.5 81.0h0M204.8 75.7h0M203.8 81.5h0M204.4 77.0h0M202.3 74.9h0M205.1 67.9h0M204.5 76.7h0M203.9 66.8h0M203.9 72.5h0M204.5 74.3h0M205.1 70.0h0M203.8 71.2h0M203.5 63.1h0M204.0 81.0h0M205.5 77.0h0M204.4 61.4h0M204.6 81.3h0M204.3 74.8h0M205.1 74.0h0M204.1 77.4h0M205.8 79.9h0M204.5 75.2h0M204.0 70.1h0M204.1 62.9h0M204.1 71.3h0M204.9 63.3h0M204.5 70.8h0M205.4 74.2h0M204.0 79.0h0M203.6 72.1h0M205.4 75.5h0M204.3 68.2h0M203.1 70.8h0M205.2 72.7h0M204.3 71.3h0M204.5 65.1h0M204.3 66.8h0M204.2 75.9h0M204.6 64.9h0M205.3 80.9h0M203.6 75.1h0M203.3 76.6h0M204.3 64.6h0M204.6 65.5h0M205.4 78.3h0M204.2 78.4h0M204.6 71.2h0M205.0 66.7h0M204.0 65.0h0M204.5 62.4h0M204.3 74.7h0M205.6 76.0h0M204.0 78.0h0M204.6 63.9h0M204.0 67.1h0M204.7 67.0h0M205.8 79.1h0M205.8 78.3h0M205.6 76.3h0" stroke="#a3de00" stroke-width="2.35" stroke-linecap="round" fill="none"/>
<path d="M203.3 129.6h0M204.2 127.7h0M205.7 131.4h0M206.0 115.3h0M204.1 132.3h0M203.8 133.2h0M206.1 116.1h0M202.6 132.1h0M204.6 117.0h0M205.9 115.7h0M204.9 115.6h0M203.9 130.8h0M205.7 132.6h0M201.7 117.6h0" stroke="#ffe800" stroke-width="2.35" stroke-linecap="round" fill="none"/>
<rect x="59.7" y="49.5" width="181.8" height="276.7" fill="none" stroke="#4a4a4a" stroke-width="1"/>
<path d="M83.6 326.2v2.6M107.9 326.2v2.6M132.2 326.2v2.6M156.5 326.2v2.6M180.9 326.2v2.6M205.2 326.2v2.6M229.5 326.2v2.6M59.7 54.2h-2.6M59.7 90.7h-2.6M59.7 127.1h-2.6M59.7 163.5h-2.6M59.7 200.0h-2.6M59.7 236.4h-2.6M59.7 272.9h-2.6M59.7 309.3h-2.6" stroke="#4a4a4a" stroke-width="0.8" fill="none"/>
<g font-family="'DejaVu Sans','Liberation Sans',sans-serif" font-size="7.7" fill="#262626" stroke="#262626" stroke-width="0.15">
<text x="83.6" y="337.4" text-anchor="middle">−12.5</text>
<text x="107.9" y="337.4" text-anchor="middle">−10.0</text>
<text x="132.2" y="337.4" text-anchor="middle">−7.5</text>
<text x="156.5" y="337.4" text-anchor="middle">−5.0</text>
<text x="180.9" y="337.4" text-anchor="middle">−2.5</text>
<text x="205.2" y="337.4" text-anchor="middle">0.0</text>
<text x="229.5" y="337.4" text-anchor="middle">2.5</text>
<text x="54.2" y="57.0" text-anchor="end">4</text>
<text x="54.2" y="93.5" text-anchor="end">2</text>
<text x="54.2" y="129.9" text-anchor="end">0</text>
<text x="54.2" y="166.3" text-anchor="end">−2</text>
<text x="54.2" y="202.8" text-anchor="end">−4</text>
<text x="54.2" y="239.2" text-anchor="end">−6</text>
<text x="54.2" y="275.7" text-anchor="end">−8</text>
<text x="54.2" y="312.1" text-anchor="end">−10</text>
<text x="272.0" y="329.8">0</text>
<text x="272.0" y="299.0">1</text>
<text x="272.0" y="268.3">2</text>
<text x="272.0" y="237.5">3</text>
<text x="272.0" y="206.8">4</text>
<text x="272.0" y="176.0">5</text>
<text x="272.0" y="145.3">6</text>
<text x="272.0" y="114.5">7</text>
<text x="272.0" y="83.8">8</text>
<text x="272.0" y="53.0">9</text>
</g>
<rect x="252.3" y="49.5" width="14.7" height="276.8" fill="url(#vir)" stroke="#4a4a4a" stroke-width="0.8"/>
<path d="M267.0 326.3h2.6M267.0 295.5h2.6M267.0 264.8h2.6M267.0 234.0h2.6M267.0 203.3h2.6M267.0 172.5h2.6M267.0 141.8h2.6M267.0 111.0h2.6M267.0 80.3h2.6M267.0 49.5h2.6" stroke="#4a4a4a" stroke-width="0.8" fill="none"/>
<g font-family="'DejaVu Serif','Liberation Serif',serif" fill="#111" stroke="#111" stroke-width="0.25">
<text x="87.0" y="43.0" font-size="10.2" textLength="137.7" lengthAdjust="spacingAndGlyphs">GMM Clustering  Results</text>
<text x="114.0" y="348.4" font-size="8.6" stroke-width="0.15" textLength="85.4" lengthAdjust="spacingAndGlyphs">Encoded Feature 1</text>
<text transform="translate(33.2 231.9) rotate(-90)" font-size="8.6" textLength="85.5" lengthAdjust="spacingAndGlyphs">Encoded Feature 2</text>
</g>
<text x="4.3" y="25.9" font-family="'DejaVu Sans','Liberation Sans',sans-serif" font-size="21.5" fill="#000" stroke="#000" stroke-width="0.45">(a)</text>
</g>
<g id="panel-b">
<path d="M428.4 164.7L428.5 164.8L430.9 165.7L430.4 164.2Z" fill="#008490" stroke="#008490" stroke-width="0.5"/>
<path d="M471.0 70.2L470.4 77.5L469.9 87.2L469.9 87.3L469.9 87.4L468.1 94.4L475.8 94.4L474.4 87.3L474.4 87.3L472.8 77.6L471.4 70.3L471.4 70.2L471.2 68.2L471.0 70.2Z" fill="#00b976" stroke="#00b976" stroke-width="0.5"/>
<path d="M465.4 107.3L465.4 107.4L465.2 107.8L478.7 107.8L478.6 107.3L476.4 97.8L476.4 97.7L475.8 94.4L468.1 94.4L467.3 97.8Z" fill="#4e0055" stroke="#4e0055" stroke-width="0.5"/>
<path d="M478.7 107.8L465.2 107.8L462.2 118.9L479.6 118.3Z" fill="#00cf4d" stroke="#00cf4d" stroke-width="0.5"/>
<path d="M461.4 126.7L461.4 126.8L461.3 126.9L461.3 127.0L461.2 127.1L461.2 127.2L459.1 130.1L480.1 123.8L479.8 120.2L479.6 118.3L462.2 118.9L461.7 120.7L461.4 126.6Z" fill="#50237b" stroke="#50237b" stroke-width="0.5"/>
<path d="M457.3 132.6L455.5 134.9L461.5 139.3L481.8 130.3L480.4 126.5L480.3 126.4L480.3 126.3L480.3 126.2L480.1 123.8L459.1 130.1L457.4 132.6Z" fill="#a3de00" stroke="#a3de00" stroke-width="0.5"/>
<path d="M486.4 141.5L484.7 137.9L484.7 137.8L482.5 132.3L482.5 132.3L481.8 130.3L461.5 139.3L475.0 155.0L486.7 143.3Z" fill="#006890" stroke="#006890" stroke-width="0.5"/>
<path d="M460.2 171.4L460.3 171.4L460.4 171.5L460.5 171.5L460.6 171.6L460.7 171.7L460.8 171.7L460.9 171.8L461.0 171.9L461.1 172.0L464.1 177.5L464.1 177.6L465.7 181.3L475.0 155.0L461.5 139.3L459.5 137.8L459.5 171.3Z" fill="#37488c" stroke="#37488c" stroke-width="0.5"/>
<path d="M471.6 189.0L475.7 189.8L478.3 187.5L478.4 185.8L478.4 185.7L478.4 185.6L478.5 185.4L480.7 180.0L480.7 179.9L480.8 179.8L480.9 179.7L481.0 179.6L481.1 179.6L486.6 175.2L486.6 175.1L490.5 172.1L491.5 168.5L489.9 162.2L489.9 162.0L489.0 153.9L487.9 148.5L486.7 143.3L475.0 155.0L465.7 181.3L467.0 184.4Z" fill="#009f89" stroke="#009f89" stroke-width="0.5"/>
<path d="M449.4 153.9L449.4 154.0L449.3 154.1L447.6 158.5L447.6 158.6L447.5 158.7L447.4 158.8L447.4 158.9L443.6 162.9L443.5 163.0L443.4 163.1L443.3 163.1L443.2 163.2L443.1 163.2L442.9 163.3L442.8 163.3L442.7 163.3L433.9 163.3L430.4 164.2L430.9 165.7L436.4 168.0L444.2 170.4L454.0 170.4L454.1 170.4L454.2 170.4L459.5 171.3L459.5 137.8L455.5 134.9L453.0 138.1L450.5 143.1L449.9 148.4L449.4 153.8Z" fill="#ffe800" stroke="#ffe800" stroke-width="0.5"/>
<path d="M478.5 188.1L499.6 219.6" stroke="#009f89" stroke-width="1.8" stroke-linecap="round" fill="none"/>
<path d="M434.0 162.9L432.0 163.1L430.0 163.4L428.0 163.8L426.0 164.2L424.0 164.8L422.0 165.4L420.0 166.2L418.0 167.0L416.0 168.0L414.0 169.1L412.0 170.3L410.0 171.7L408.0 173.2" stroke="#008490" stroke-width="1.5" stroke-linecap="round" fill="none"/>
<path d="M466.3 102.3h0M465.6 104.2h0M476.7 96.1h0M465.3 108.7h0M466.3 99.7h0M466.3 105.4h0M467.4 103.1h0M467.4 96.4h0M477.0 98.0h0M474.9 95.1h0M467.9 95.0h0M466.8 102.1h0M468.6 94.8h0M475.5 95.8h0M466.9 103.3h0M476.9 99.1h0M466.2 105.5h0M467.0 100.3h0M467.1 104.6h0M475.7 95.4h0M476.8 96.6h0M477.6 101.3h0M477.5 103.7h0M466.9 101.0h0M476.1 98.1h0M477.7 105.9h0M474.9 96.0h0M466.3 106.6h0M468.6 96.0h0M467.8 99.1h0M467.8 94.8h0M476.7 98.6h0M464.4 102.5h0M479.9 104.5h0M465.1 94.4h0M480.1 105.3h0M464.6 103.4h0M462.3 103.0h0M464.9 101.3h0M465.6 98.3h0M466.0 95.9h0M479.2 101.0h0M459.1 106.5h0M462.2 103.1h0M465.8 95.6h0M454.9 99.8h0M464.8 101.9h0M463.9 98.6h0M479.4 101.6h0M478.1 96.5h0M491.6 100.1h0M480.1 105.7h0M479.5 96.7h0M473.7 106.4h0M471.8 107.5h0M467.9 95.5h0M478.7 107.8h0M468.4 108.2h0M468.2 108.5h0M475.3 95.3h0M469.1 94.5h0M469.2 107.4h0" stroke="#4e0055" stroke-width="2.35" stroke-linecap="round" fill="none"/>
<path d="M480.0 119.5h0M462.5 121.9h0M480.0 118.7h0M460.4 129.3h0M479.8 121.3h0M462.7 120.9h0M479.8 119.3h0M462.5 125.6h0M460.7 128.3h0M462.0 119.3h0M461.4 121.4h0M461.4 121.6h0M479.2 120.3h0M459.6 129.0h0M462.2 121.4h0M461.1 128.3h0M479.6 122.3h0M479.1 123.9h0M460.9 128.5h0M462.2 124.2h0M461.9 126.9h0M461.8 126.1h0M461.7 119.5h0M480.4 122.2h0M478.8 119.7h0M461.5 128.8h0M461.7 127.1h0M461.5 127.3h0M478.7 119.9h0M462.3 124.7h0M479.9 121.2h0M461.2 126.8h0M448.7 123.4h0M459.8 122.6h0M456.1 124.2h0M452.7 124.3h0M457.9 126.9h0M458.6 126.3h0M459.3 122.5h0M458.0 126.3h0M459.8 123.9h0M482.3 120.6h0M444.8 131.7h0M454.9 127.1h0M458.3 123.8h0M444.6 127.9h0M450.6 132.6h0M450.5 121.4h0M458.9 122.2h0M457.1 124.3h0M445.3 127.9h0M443.0 133.7h0M447.1 130.3h0M461.2 128.4h0M465.8 120.2h0M471.0 119.3h0M473.8 119.2h0M471.8 126.1h0M473.3 119.9h0M476.6 119.8h0M470.7 125.6h0M468.5 120.3h0M469.1 119.9h0M466.9 127.3h0M468.4 119.3h0M461.8 128.6h0" stroke="#50237b" stroke-width="2.35" stroke-linecap="round" fill="none"/>
<path d="M460.4 171.1h0M464.6 178.1h0M464.5 179.1h0M463.4 175.0h0M461.7 172.0h0M463.7 176.8h0M462.6 174.4h0M463.2 175.1h0M463.9 176.5h0M465.2 180.1h0M460.7 172.6h0M464.0 175.1h0M465.0 181.2h0M463.4 174.0h0M464.1 179.1h0M459.8 171.8h0M464.3 177.7h0M462.2 174.4h0M464.0 177.0h0M460.4 174.7h0M463.6 180.5h0M461.4 176.4h0M460.7 175.1h0M462.9 181.2h0M462.2 177.8h0M461.0 174.6h0M461.3 177.3h0M463.7 182.6h0M462.1 178.9h0M463.3 179.5h0M462.8 180.7h0M464.5 185.5h0M460.3 173.5h0M460.5 174.3h0M462.4 177.3h0M462.5 181.5h0M463.7 182.9h0M460.1 155.5h0M464.4 143.9h0M463.7 142.1h0M467.3 176.5h0M460.6 155.6h0M470.6 166.1h0M468.4 170.7h0M461.9 140.7h0M469.4 150.3h0M460.3 167.0h0M473.3 158.3h0M468.8 170.8h0M460.4 167.6h0M459.9 148.9h0M466.7 176.8h0M461.1 152.8h0M459.8 155.9h0M466.2 177.9h0M459.5 164.4h0M460.5 162.9h0M460.5 141.5h0M459.7 167.5h0M460.3 166.1h0M471.9 160.2h0M465.3 180.5h0M460.3 148.2h0M469.6 168.0h0M459.7 145.5h0M461.0 167.2h0M469.2 167.4h0M460.9 156.3h0M460.3 145.0h0M459.4 146.7h0M459.6 166.6h0M460.7 142.5h0" stroke="#37488c" stroke-width="2.35" stroke-linecap="round" fill="none"/>
<path d="M484.7 138.8h0M485.4 140.0h0M485.6 142.1h0M485.1 141.0h0M483.0 132.4h0M484.6 137.0h0M485.5 139.6h0M484.0 135.4h0M486.6 143.2h0M483.9 138.8h0M483.1 136.5h0M484.2 139.6h0M483.5 137.1h0M485.0 140.0h0M482.2 133.7h0M484.2 136.0h0M485.4 138.3h0M486.8 141.7h0M484.9 137.7h0M483.3 133.4h0M485.8 142.5h0M485.7 142.3h0M485.9 143.2h0M485.9 144.4h0M485.6 139.3h0M483.0 136.6h0M482.1 132.2h0M488.2 139.6h0M487.2 139.0h0M483.7 129.5h0M488.1 137.5h0M486.7 138.3h0M485.0 129.1h0M485.3 131.5h0M488.8 130.3h0M485.5 135.0h0M491.0 138.5h0M483.4 129.0h0M490.3 136.7h0M486.3 133.2h0M485.2 130.2h0M492.9 135.3h0M489.1 139.9h0M484.6 132.5h0M491.4 135.1h0M485.5 133.9h0M485.5 130.6h0M484.9 133.4h0M489.9 138.6h0M491.1 134.5h0M485.8 134.1h0M489.5 138.2h0M487.5 132.3h0M489.3 133.6h0M486.8 132.0h0M485.8 132.7h0M479.1 150.1h0M472.3 135.6h0M470.2 147.8h0M466.2 138.0h0M478.8 150.0h0M474.9 154.2h0M465.6 139.0h0M483.9 145.4h0M463.5 138.7h0M483.2 146.5h0M468.2 147.6h0M465.1 138.4h0M480.1 149.7h0M475.6 133.5h0M472.6 134.7h0M464.6 138.9h0M476.7 152.2h0M469.6 148.1h0M470.6 148.1h0" stroke="#006890" stroke-width="2.35" stroke-linecap="round" fill="none"/>
<path d="M430.2 164.7h0M428.2 165.0h0M429.6 165.1h0M430.0 165.2h0M426.2 173.7h0M427.4 166.6h0M428.3 172.1h0M428.1 171.0h0M420.6 168.4h0M423.9 172.2h0M422.2 169.3h0M427.6 177.1h0M426.6 170.8h0M430.4 171.5h0M429.4 177.0h0M432.4 180.3h0M426.7 173.1h0M431.9 176.3h0M425.4 164.8h0M431.3 178.4h0M423.9 170.9h0M422.5 174.1h0M423.2 167.9h0M422.8 174.4h0M429.7 172.9h0M426.0 167.2h0M428.3 176.0h0M429.2 172.0h0M425.0 169.8h0M424.4 165.7h0M425.8 169.0h0M427.8 170.1h0M427.7 175.4h0M431.3 175.4h0M436.0 181.6h0M428.9 171.7h0M428.4 171.8h0M430.6 176.5h0M428.2 171.9h0M428.4 166.8h0M426.4 175.8h0M437.1 190.6h0M423.3 188.2h0M427.4 192.5h0M419.6 188.6h0M416.7 199.7h0M417.0 191.7h0M418.3 185.4h0M421.1 185.4h0M414.4 190.6h0M426.7 192.6h0M399.4 180.8h0M386.4 199.6h0M398.7 182.2h0M405.2 175.7h0M405.8 175.0h0M404.1 176.8h0M407.4 173.6h0M405.0 175.6h0M401.4 178.8h0M387.7 197.6h0M397.0 184.4h0M406.7 174.5h0M402.5 177.9h0M404.6 176.4h0M400.7 180.0h0M406.0 175.1h0M402.2 178.3h0M394.5 187.1h0M387.3 197.8h0M425.6 166.3h0M426.6 167.2h0M414.8 180.1h0M423.3 166.2h0M428.8 165.6h0M413.9 174.1h0M416.1 194.3h0M416.1 181.2h0M418.2 167.6h0M415.2 187.5h0M417.8 170.9h0M403.0 182.0h0M426.3 169.3h0M403.0 195.6h0M424.6 166.2h0M411.8 195.3h0M423.4 173.0h0M424.7 177.1h0M427.9 167.5h0M424.5 170.4h0M422.3 167.6h0M423.7 170.5h0M419.8 169.9h0M429.1 168.8h0M427.4 164.1h0M424.8 184.8h0M430.5 164.2h0M421.6 200.5h0M430.0 164.9h0M414.2 190.0h0M424.2 165.7h0M425.1 166.0h0M423.4 172.5h0M419.6 175.5h0M422.0 166.9h0M405.1 194.1h0M420.2 168.9h0M415.8 174.5h0M402.5 197.8h0M396.5 199.3h0M417.6 176.3h0M422.1 171.9h0M427.9 171.3h0M428.6 164.1h0M423.1 165.3h0M422.9 183.7h0M421.3 170.2h0M425.4 180.9h0M422.5 165.5h0M420.0 189.5h0M397.1 196.7h0M427.3 167.8h0M419.1 176.2h0M414.8 186.1h0M424.9 165.6h0M421.8 166.6h0M426.8 170.3h0M406.3 200.0h0M421.2 165.6h0M428.1 167.9h0M415.9 182.8h0M419.3 173.6h0M420.2 187.1h0M423.9 182.6h0M427.1 164.5h0M430.3 164.3h0M415.3 175.2h0M421.1 172.4h0M425.8 166.8h0M418.1 177.7h0M415.9 186.2h0M423.1 165.8h0M422.7 182.5h0M419.4 174.1h0M430.7 169.9h0M423.8 168.7h0M428.4 163.8h0M418.1 177.8h0M411.8 192.2h0M426.7 165.7h0M416.0 185.1h0M419.3 168.0h0M408.7 172.7h0M417.2 170.8h0M422.9 174.8h0M415.3 194.0h0M415.0 169.7h0M398.8 188.3h0M423.7 169.8h0M398.8 199.5h0M403.4 192.5h0M422.2 173.0h0M419.1 170.9h0M411.0 175.9h0M427.1 165.9h0M417.1 175.1h0M422.8 171.3h0M427.1 177.1h0M427.0 168.2h0M427.2 167.0h0M426.3 175.7h0M423.7 169.4h0M428.3 164.2h0M427.6 164.3h0M427.9 164.2h0M423.3 166.0h0M418.5 168.7h0M423.6 165.9h0M414.8 171.7h0M422.1 166.7h0M420.8 167.1h0M425.9 165.2h0M418.9 168.7h0M427.8 164.1h0M415.7 174.1h0M406.5 187.4h0M426.8 165.4h0M422.9 168.0h0M429.2 164.1h0M422.4 168.3h0M401.8 195.9h0M416.3 173.6h0M418.2 171.8h0M413.2 177.9h0M418.0 171.6h0M425.4 166.4h0M428.5 164.9h0M406.5 195.0h0M417.8 175.0h0M421.9 170.3h0M427.9 166.4h0M421.7 170.0h0M420.6 171.6h0M420.7 171.8h0M427.4 166.3h0M425.2 169.4h0M417.2 180.3h0M420.6 175.1h0M426.6 167.3h0M413.7 187.0h0M424.7 168.8h0M412.7 188.9h0M425.8 168.5h0M421.4 177.3h0M428.2 168.5h0M428.1 168.2h0M428.3 167.5h0M422.8 174.4h0M421.0 177.6h0M421.7 175.9h0M413.6 194.8h0M414.4 193.0h0M423.2 173.5h0M428.7 166.8h0M421.9 179.9h0M424.5 174.4h0M427.0 170.9h0M427.7 170.0h0M422.0 179.9h0M415.5 197.0h0M428.8 168.4h0M418.9 194.1h0M423.4 180.6h0M421.9 184.3h0M417.6 198.7h0M424.0 178.8h0M424.2 178.4h0M426.0 175.3h0M334.8 313.2h0M334.4 297.4h0M350.4 290.6h0M366.8 282.4h0M352.6 274.8h0M341.8 262.6h0M360.4 258.0h0M384.4 262.6h0M380.8 259.0h0M377.6 246.4h0M384.8 243.4h0M366.2 225.6h0M376.8 227.8h0M396.8 236.2h0M400.6 233.2h0M412.8 233.6h0M399.8 227.6h0M388.0 223.4h0M400.8 222.4h0M402.0 220.8h0M385.4 218.0h0M382.4 215.6h0M396.8 214.4h0M424.6 215.0h0M386.8 212.4h0M400.4 212.0h0M383.8 210.0h0M404.4 209.4h0M425.8 208.6h0M395.8 207.6h0M427.8 207.0h0M407.4 206.4h0M411.8 206.4h0M383.2 205.6h0M408.4 204.0h0M397.8 203.0h0M415.8 202.4h0M419.8 202.0h0M424.2 201.6h0M400.8 201.0h0M408.4 201.0h0M435.8 205.0h0" stroke="#008490" stroke-width="2.35" stroke-linecap="round" fill="none"/>
<path d="M485.4 174.9h0M478.8 185.2h0M490.2 165.2h0M481.6 179.6h0M484.4 177.5h0M466.5 182.7h0M479.2 182.5h0M486.6 174.2h0M490.7 165.2h0M490.1 170.1h0M489.8 164.8h0M473.8 189.3h0M471.5 189.3h0M487.0 146.0h0M484.5 175.5h0M490.9 171.1h0M488.8 159.2h0M487.3 143.6h0M487.2 144.1h0M486.8 146.8h0M477.2 187.5h0M488.3 157.6h0M469.2 185.9h0M480.4 179.8h0M476.3 188.6h0M477.8 186.6h0M491.4 170.2h0M467.8 183.9h0M484.2 176.3h0M476.9 188.4h0M486.2 145.6h0M481.4 178.5h0M488.5 156.0h0M468.8 185.8h0M489.0 173.2h0M467.6 183.8h0M473.0 189.4h0M486.5 145.7h0M482.7 178.7h0M477.4 187.6h0M480.3 179.9h0M467.3 183.6h0M466.9 181.2h0M466.9 182.4h0M468.5 185.9h0M466.4 183.2h0M489.0 161.8h0M472.1 189.1h0M488.0 152.5h0M491.1 165.0h0M488.9 152.5h0M491.0 170.4h0M489.3 158.8h0M484.6 175.6h0M489.2 173.0h0M491.3 169.9h0M487.8 152.0h0M477.9 187.9h0M476.9 187.3h0M488.6 157.3h0M483.9 176.8h0M477.3 187.5h0M488.1 147.4h0M488.7 161.1h0M487.2 174.2h0M489.2 161.3h0M489.4 173.4h0M487.7 146.1h0M479.4 182.8h0M477.4 188.1h0M488.4 152.0h0M479.6 184.2h0M488.5 150.9h0M490.4 165.3h0M474.8 188.6h0M482.1 178.5h0M478.4 185.0h0M488.6 158.3h0M488.9 152.2h0M478.8 182.9h0M490.7 167.7h0M481.4 178.6h0M490.2 172.1h0M467.4 185.2h0M488.7 173.4h0M467.0 183.8h0M479.4 181.5h0M485.0 175.1h0M480.4 181.4h0M487.4 151.6h0M488.6 154.6h0M478.3 182.9h0M479.3 181.1h0M482.0 178.8h0M482.1 178.7h0M481.2 178.6h0M487.4 151.2h0M490.6 167.6h0M481.6 179.1h0M466.6 183.4h0M489.2 156.5h0M485.1 176.5h0M491.8 169.5h0M481.1 178.5h0M487.6 148.2h0M480.7 180.8h0M470.3 188.0h0M489.3 153.3h0M475.9 189.2h0M486.1 174.3h0M478.1 184.8h0M487.9 151.9h0M490.0 164.9h0M476.9 187.8h0M480.6 178.7h0M489.3 155.8h0M485.5 180.8h0M478.4 189.6h0M471.4 190.7h0M466.1 186.8h0M482.4 186.9h0M489.9 143.3h0M468.0 188.0h0M465.5 184.8h0M479.5 192.1h0M465.0 184.3h0M492.6 165.4h0M468.3 187.9h0M481.1 183.5h0M467.8 187.8h0M488.9 144.2h0M468.6 188.7h0M467.8 189.4h0M492.4 156.2h0M478.4 190.9h0M489.1 145.7h0M494.3 170.3h0M468.6 188.5h0M490.2 146.8h0M468.4 188.2h0M491.2 151.8h0M472.8 191.8h0M492.7 164.7h0M482.5 180.5h0M474.3 191.6h0M487.3 178.1h0M491.5 152.0h0M491.7 142.5h0M492.5 164.7h0M487.0 177.4h0M490.8 149.7h0M489.0 176.6h0M489.6 179.7h0M492.4 178.4h0M492.0 173.0h0M491.2 159.8h0M491.3 150.1h0M492.5 145.4h0M495.8 171.5h0M492.9 174.6h0M491.6 156.8h0M493.4 150.6h0M491.1 151.2h0M490.8 174.0h0M488.4 178.4h0M490.4 174.9h0M493.2 163.5h0M493.1 165.2h0M492.2 178.1h0M494.7 150.8h0M492.6 160.4h0M493.6 148.0h0M493.6 171.6h0M492.3 151.3h0M494.2 161.1h0M494.6 173.2h0M490.3 147.5h0M495.2 172.9h0M490.0 176.7h0M502.4 173.2h0M492.5 151.6h0M492.7 160.8h0M496.0 137.2h0M493.8 182.7h0M493.0 157.1h0M492.7 163.7h0M493.3 159.1h0M492.8 164.0h0M495.8 165.6h0M491.6 182.9h0M491.3 153.2h0M487.5 178.6h0M491.2 153.5h0M489.8 148.7h0M489.3 143.3h0M496.5 161.7h0M496.0 166.0h0M490.9 173.7h0M498.1 144.3h0M463.0 188.8h0M465.5 185.6h0M465.8 189.5h0M466.2 187.8h0M464.0 186.6h0M465.0 187.8h0M466.9 187.7h0M463.0 188.3h0M482.3 194.1h0M482.4 182.8h0M473.8 194.1h0M486.6 201.5h0M481.5 187.3h0M464.5 191.4h0M471.2 202.7h0M483.0 180.9h0M466.2 188.6h0M478.3 193.3h0M496.0 161.1h0M471.0 193.7h0M479.7 192.8h0M487.9 184.6h0M462.8 197.4h0M461.3 197.2h0M476.7 194.3h0M492.0 187.1h0M483.4 194.9h0M479.0 191.3h0M479.7 201.6h0M481.2 185.9h0M482.1 184.8h0M485.9 183.4h0M489.9 188.3h0M465.7 186.5h0M487.3 183.7h0M473.5 199.6h0M482.3 195.2h0M482.0 187.9h0M485.2 188.1h0M495.0 193.6h0M464.3 192.6h0M481.7 187.6h0M470.9 195.5h0M482.2 203.0h0M465.9 200.5h0M483.6 204.3h0M467.1 193.6h0M479.5 194.8h0M477.0 204.4h0M491.0 222.5h0M475.2 196.4h0M475.3 208.3h0M473.7 214.5h0M483.8 201.5h0M478.9 201.5h0M473.8 204.8h0M483.5 215.5h0M494.8 200.3h0M490.6 201.3h0M489.5 194.6h0M471.4 197.6h0M475.4 216.9h0M477.6 220.7h0M461.1 208.2h0M491.4 200.2h0M463.4 198.5h0M479.7 199.0h0M465.2 195.5h0M477.3 209.5h0M483.5 228.7h0M480.8 203.7h0M462.8 194.4h0M485.6 145.6h0M468.3 175.2h0M469.3 171.4h0M470.2 169.2h0M486.2 144.9h0M469.3 172.7h0M468.6 175.5h0M477.5 153.6h0M468.7 175.8h0M478.9 152.5h0M475.6 154.3h0M475.1 157.7h0M471.8 165.1h0M481.5 149.5h0" stroke="#009f89" stroke-width="2.35" stroke-linecap="round" fill="none"/>
<path d="M473.3 77.0h0M473.8 80.7h0M471.0 76.6h0M474.6 89.0h0M474.1 87.3h0M471.6 76.7h0M475.5 92.1h0M470.2 80.4h0M472.5 81.1h0M470.3 76.5h0M472.9 84.7h0M469.7 81.2h0M470.0 76.2h0M470.1 89.4h0M471.2 85.8h0M469.5 88.5h0M474.2 90.8h0M471.2 84.3h0M470.8 74.4h0M474.0 91.6h0M473.7 89.2h0M471.1 69.3h0M471.8 71.4h0M473.3 83.6h0M469.8 91.8h0M472.8 80.3h0M468.3 93.2h0M474.8 94.6h0M472.1 72.1h0M470.2 78.9h0M470.9 81.4h0M469.9 79.2h0M473.0 82.9h0M469.2 92.8h0M469.9 85.8h0M471.7 75.1h0M470.9 86.5h0M474.6 91.7h0M471.1 69.7h0M469.0 91.4h0M470.5 71.3h0M470.1 87.6h0M470.6 68.8h0M474.9 93.5h0M470.3 85.4h0M471.6 73.5h0M473.0 81.6h0M471.5 75.3h0M474.3 88.5h0M473.5 84.0h0M471.3 76.5h0M473.1 77.4h0M472.6 74.3h0M473.2 79.3h0M469.9 81.5h0M472.2 77.3h0M472.0 75.9h0M475.4 93.1h0M469.7 80.3h0M471.4 65.6h0M471.0 86.8h0M468.7 90.2h0M470.5 71.2h0M472.3 78.3h0M473.2 80.6h0M474.5 89.0h0M473.0 85.0h0M471.2 68.0h0M473.4 82.7h0M472.8 80.4h0M471.3 65.3h0M469.6 82.6h0M470.7 87.6h0M472.8 84.3h0M471.0 82.8h0M470.4 87.3h0M470.2 87.2h0M471.0 77.4h0M471.4 72.5h0M470.9 79.8h0M472.0 78.1h0M473.1 82.1h0M470.3 81.0h0M471.6 75.7h0M469.0 91.1h0M470.6 81.5h0M471.2 77.0h0M469.3 91.3h0M462.5 94.3h0M464.0 94.8h0M468.8 75.7h0M466.5 93.5h0M469.1 74.9h0M467.7 80.1h0M466.5 92.9h0M467.5 87.5h0M466.6 91.6h0M468.3 86.5h0M468.6 74.0h0M468.5 77.2h0M467.9 77.6h0M467.9 78.9h0M468.3 84.1h0M466.7 92.3h0M474.4 75.1h0M476.8 91.1h0M476.6 85.2h0M475.6 83.3h0M475.7 84.0h0M481.1 93.3h0M475.2 81.6h0M475.8 81.7h0M475.0 80.1h0M475.7 85.2h0M475.8 83.1h0M477.2 90.9h0M476.3 88.8h0M477.2 92.4h0M471.9 67.9h0M471.3 76.7h0M472.1 79.3h0M470.7 66.8h0M473.4 86.2h0M470.7 72.5h0M471.3 74.3h0M471.9 70.0h0M470.6 71.2h0M470.3 63.1h0M471.0 83.9h0M470.8 81.0h0M470.9 87.1h0M470.4 83.6h0M472.3 77.0h0M471.2 61.4h0M470.5 86.0h0M471.4 81.3h0M471.1 74.8h0M471.9 74.0h0M470.9 77.4h0M472.6 79.9h0M471.3 75.2h0M470.8 70.1h0M470.9 62.9h0M470.9 71.3h0M471.7 63.3h0M471.3 70.8h0M471.2 83.8h0M472.2 74.2h0M470.8 79.0h0M470.4 72.1h0M472.2 75.5h0M471.1 68.2h0M472.3 81.0h0M469.9 70.8h0M472.0 72.7h0M471.1 71.3h0M471.3 65.1h0M471.1 66.8h0M474.1 83.9h0M471.0 75.9h0M471.4 64.9h0M469.4 86.7h0M472.1 80.9h0M470.4 75.1h0M470.1 76.6h0M471.1 64.6h0M471.4 65.5h0M472.2 78.3h0M471.0 78.4h0M471.4 71.2h0M470.4 82.2h0M471.8 66.7h0M470.8 65.0h0M471.3 62.4h0M471.1 74.7h0M472.4 76.0h0M470.8 78.0h0M471.4 63.9h0M471.3 83.9h0M470.9 86.5h0M470.8 67.1h0M471.5 67.0h0M473.1 93.1h0M474.2 93.4h0" stroke="#00b976" stroke-width="2.35" stroke-linecap="round" fill="none"/>
<path d="M465.3 110.3h0M479.2 108.5h0M462.8 117.9h0M479.2 118.2h0M463.3 113.6h0M464.4 110.4h0M462.2 117.7h0M477.7 107.9h0M478.0 108.4h0M479.8 115.3h0M479.3 117.0h0M462.5 115.8h0M464.7 108.3h0M462.8 117.5h0M464.1 114.5h0M479.2 113.1h0M463.8 111.2h0M464.0 114.7h0M479.3 108.3h0M462.2 117.8h0M478.9 114.8h0M477.8 110.7h0M479.8 117.9h0M463.2 114.2h0M463.4 112.8h0M478.6 109.5h0M463.6 118.0h0M478.4 116.0h0M464.5 112.9h0M463.2 118.3h0M465.9 108.2h0M479.0 109.2h0M479.7 117.4h0M463.6 117.1h0M478.0 111.8h0M477.5 106.9h0M479.4 112.6h0M464.6 112.2h0M478.3 110.4h0M479.2 110.7h0M480.1 117.8h0M479.2 113.4h0M464.8 110.1h0M463.9 110.9h0M478.4 116.3h0M479.2 109.4h0M479.3 114.8h0M462.9 108.6h0M480.9 108.2h0M481.5 112.0h0M459.8 108.0h0M461.7 111.4h0M480.3 106.9h0M455.8 111.1h0M462.5 111.9h0M453.0 112.4h0M459.6 115.5h0M460.4 113.5h0M461.4 113.8h0M457.5 113.8h0M458.1 118.2h0M453.1 113.8h0M462.8 108.5h0M452.0 110.6h0M490.8 111.8h0M485.8 114.0h0M483.8 108.2h0M484.1 118.7h0M485.1 111.5h0M480.7 108.0h0M480.5 109.4h0M486.8 115.0h0M483.3 112.2h0M484.7 111.1h0M475.8 108.7h0M465.7 118.5h0M477.7 117.0h0M474.1 107.9h0M468.4 117.5h0M475.1 117.8h0M470.4 117.2h0M475.4 116.9h0M466.1 108.9h0M475.1 118.7h0" stroke="#00cf4d" stroke-width="2.35" stroke-linecap="round" fill="none"/>
<path d="M481.0 126.9h0M480.6 127.1h0M459.6 131.4h0M480.5 128.3h0M479.9 124.5h0M456.8 133.5h0M455.3 134.6h0M459.8 130.6h0M460.5 130.0h0M455.9 134.6h0M481.2 129.8h0M459.6 130.3h0M479.7 125.5h0M458.8 132.2h0M456.9 135.1h0M456.7 134.8h0M481.6 129.4h0M456.8 133.4h0M482.1 124.0h0M483.1 128.8h0M455.1 132.7h0M455.6 132.0h0M484.6 123.7h0M484.4 127.4h0M481.6 123.3h0M483.6 129.3h0M484.4 126.7h0M482.4 127.4h0M483.9 128.6h0M482.5 127.3h0M479.3 130.3h0M476.4 126.2h0M473.9 132.7h0M467.8 128.1h0M476.1 125.6h0M458.1 135.4h0M465.2 129.3h0M462.4 129.1h0M461.5 130.0h0M477.5 125.8h0M466.4 128.7h0M468.9 127.4h0M468.1 128.5h0M462.2 129.7h0M463.3 138.7h0M479.5 125.5h0M462.5 137.3h0M455.8 135.4h0M474.4 132.2h0M480.4 129.8h0M464.4 129.1h0M462.9 137.2h0" stroke="#a3de00" stroke-width="2.35" stroke-linecap="round" fill="none"/>
<path d="M452.0 140.4h0M448.1 157.0h0M451.5 141.6h0M448.3 169.8h0M456.6 171.2h0M450.9 147.1h0M451.4 144.5h0M452.0 140.7h0M440.9 163.9h0M447.1 158.3h0M451.0 144.0h0M447.7 170.5h0M448.6 155.1h0M456.0 170.0h0M455.3 170.4h0M451.2 169.5h0M438.9 167.7h0M441.0 168.5h0M459.6 171.7h0M448.6 156.2h0M447.5 159.1h0M446.1 160.7h0M453.2 137.3h0M441.3 163.5h0M450.7 143.5h0M441.0 162.9h0M450.9 170.6h0M436.5 163.2h0M439.4 163.7h0M450.5 152.3h0M450.4 143.9h0M441.4 164.5h0M450.3 170.4h0M448.7 158.6h0M453.2 169.2h0M445.2 161.6h0M435.0 166.4h0M444.3 163.9h0M455.9 136.2h0M449.8 145.9h0M452.6 137.7h0M452.7 138.1h0M454.6 169.8h0M452.2 141.8h0M441.8 164.4h0M441.3 170.0h0M437.7 167.2h0M445.5 161.4h0M452.2 140.8h0M452.8 169.8h0M430.9 164.4h0M445.9 161.8h0M445.3 170.4h0M441.1 169.9h0M437.2 167.4h0M446.7 161.3h0M449.4 151.4h0M432.4 164.9h0M437.3 168.1h0M437.9 162.8h0M432.0 165.6h0M432.6 166.9h0M448.8 169.4h0M433.2 167.2h0M444.2 169.3h0M449.5 153.4h0M447.0 169.9h0M455.3 135.2h0M450.3 142.3h0M452.2 140.4h0M456.4 171.1h0M451.9 139.4h0M452.1 141.7h0M449.2 170.6h0M449.9 148.2h0M455.3 137.0h0M442.0 169.9h0M449.7 150.2h0M449.5 148.8h0M432.2 166.8h0M449.3 155.3h0M444.9 162.3h0M451.2 144.4h0M455.7 171.1h0M438.6 168.0h0M448.8 169.9h0M449.1 154.3h0M447.2 170.7h0M446.7 160.0h0M446.1 161.6h0M441.4 163.8h0M434.5 167.3h0M431.9 165.8h0M431.8 165.9h0M430.7 164.1h0M451.9 169.8h0M441.4 168.3h0M443.5 164.4h0M432.4 163.2h0M449.6 152.9h0M433.7 162.8h0M453.3 139.7h0M436.6 163.6h0M432.3 164.0h0M437.3 163.1h0M453.3 140.0h0M431.3 163.6h0M445.7 169.6h0M442.1 163.6h0M436.7 164.2h0M442.5 168.8h0M454.2 136.8h0M444.7 161.4h0M436.9 163.7h0M440.9 162.8h0M449.3 152.9h0M453.6 139.0h0M453.0 139.0h0M435.4 167.2h0M451.0 145.6h0M450.7 144.4h0M453.7 137.4h0M453.3 137.9h0M437.7 162.9h0M442.6 170.3h0M433.3 163.8h0M443.3 164.3h0M461.8 181.5h0M433.9 173.0h0M440.7 172.4h0M458.8 172.9h0M461.3 178.4h0M441.0 171.0h0M438.9 170.6h0M434.7 171.0h0M443.8 172.5h0M462.1 182.1h0M443.0 172.9h0M446.0 171.9h0M460.2 174.8h0M459.0 174.6h0M459.2 173.5h0M435.1 169.4h0M443.2 135.7h0M450.7 135.0h0M445.8 135.7h0M453.2 182.9h0M441.7 172.4h0M439.7 172.1h0M453.4 179.3h0M455.9 176.8h0M438.8 170.6h0M460.2 187.0h0M435.0 174.3h0M438.6 179.0h0M439.4 180.1h0M444.5 180.8h0M459.0 173.9h0M461.2 188.4h0M441.3 179.7h0M448.8 178.2h0M438.8 170.3h0M459.8 179.9h0M457.9 175.1h0M457.7 178.2h0M438.1 172.7h0M456.7 173.8h0M444.7 181.0h0M452.8 185.6h0M443.0 179.8h0M433.1 170.5h0M449.0 179.2h0M447.3 177.3h0M460.7 189.3h0M441.6 172.7h0M452.1 176.8h0M453.2 177.2h0M434.3 174.6h0M460.6 189.3h0M453.1 184.1h0M438.7 170.1h0M441.1 178.0h0M449.9 184.7h0M441.4 173.6h0M442.7 175.5h0M459.7 179.4h0M443.3 177.8h0M455.4 184.1h0M447.3 172.0h0M460.9 181.6h0M440.2 180.5h0M439.5 182.9h0M447.0 176.2h0M438.9 182.0h0M440.0 176.4h0M453.4 184.1h0M435.6 181.5h0M443.0 175.1h0M457.9 187.6h0M447.7 180.0h0M442.4 184.0h0M443.1 180.5h0M449.3 179.5h0M447.5 174.3h0M442.4 178.8h0M449.3 181.3h0M437.8 173.3h0M446.3 180.3h0M449.2 175.8h0M453.6 176.4h0M444.1 180.1h0M436.5 179.0h0M452.9 177.8h0M449.5 179.7h0M450.5 175.4h0M454.2 174.4h0M444.0 183.5h0M432.1 169.4h0M458.7 182.5h0M445.8 184.5h0M433.6 173.9h0M458.1 178.7h0M460.1 183.3h0M432.1 168.5h0M441.0 180.8h0M454.1 182.6h0M432.9 168.4h0M448.5 182.7h0M459.9 188.5h0M438.4 171.4h0M439.2 179.5h0M451.9 173.1h0M458.0 178.7h0M435.5 170.6h0M452.8 176.2h0M445.9 172.2h0M441.2 175.2h0M444.9 182.7h0M446.4 173.7h0M454.4 176.3h0M447.5 185.3h0M442.5 173.6h0M462.5 183.4h0M444.3 176.8h0M457.4 182.0h0M452.7 180.6h0M457.2 178.8h0M454.4 178.0h0M454.4 174.4h0M452.4 182.0h0M438.8 179.4h0M439.5 176.4h0M458.6 186.1h0M458.8 183.1h0M432.7 168.4h0M457.2 183.9h0M444.7 179.4h0M444.3 174.7h0M450.3 179.2h0M451.4 184.1h0M452.0 180.9h0M461.3 181.3h0M455.3 177.3h0M446.4 173.9h0M461.3 185.6h0M447.2 171.8h0M451.7 178.0h0M435.0 171.5h0M434.7 176.7h0M456.2 172.4h0M444.3 156.3h0M458.0 176.5h0M461.8 183.6h0M449.0 183.3h0M448.7 176.7h0M439.2 177.0h0M444.6 179.9h0M455.3 174.9h0M459.9 176.4h0M457.0 176.4h0M446.8 174.1h0M457.3 179.9h0M456.5 174.0h0M439.0 179.9h0M439.2 181.7h0M461.2 182.1h0M448.6 184.2h0M442.1 186.2h0M448.0 179.3h0M463.4 184.4h0M451.3 176.1h0M461.9 195.5h0M450.3 173.0h0M454.4 185.8h0M438.4 175.8h0M441.7 172.9h0M461.1 182.7h0M446.8 177.2h0M455.7 175.9h0M443.9 175.3h0M452.2 181.4h0M448.5 175.9h0M444.3 179.2h0M450.4 182.9h0M449.5 180.8h0M458.9 194.0h0M444.4 180.3h0M455.0 183.0h0M459.0 173.8h0M459.8 174.9h0M460.4 177.1h0M440.0 173.0h0M450.5 205.5h0M445.6 172.8h0M453.3 177.3h0M447.1 177.1h0M456.7 175.5h0M448.4 184.9h0M462.3 183.8h0M455.7 182.7h0M459.7 179.5h0M437.9 177.0h0M461.1 184.8h0M441.2 173.5h0M454.1 184.2h0M457.4 181.9h0M456.6 180.3h0M457.1 173.5h0M455.1 176.6h0M460.4 177.6h0M449.9 197.8h0M453.6 173.1h0M458.4 184.2h0M454.9 197.8h0M447.6 203.8h0M445.6 185.5h0M452.8 185.4h0M453.3 187.0h0M454.2 184.8h0M448.0 187.5h0M462.2 189.5h0M438.8 183.6h0M450.4 204.3h0M459.3 184.6h0M455.4 188.9h0M452.9 188.8h0M459.6 185.5h0M446.2 190.4h0M432.9 164.0h0M434.3 163.2h0M432.5 163.2h0M431.0 164.2h0M431.1 163.5h0M431.8 166.8h0M434.0 163.6h0M431.5 163.6h0M431.9 166.3h0M431.9 163.9h0M432.7 163.1h0M429.9 163.8h0M459.7 163.4h0M458.8 145.4h0M458.2 153.4h0M459.0 161.2h0M459.0 163.2h0M457.9 143.1h0M458.3 160.9h0M458.1 143.1h0M458.1 154.0h0M458.9 160.1h0M454.7 135.8h0M458.7 143.0h0M458.0 162.1h0M458.7 149.6h0M459.0 156.9h0M459.0 160.1h0" stroke="#ffe800" stroke-width="2.35" stroke-linecap="round" fill="none"/>
<rect x="326.5" y="49.5" width="181.9" height="276.9" fill="none" stroke="#4a4a4a" stroke-width="1"/>
<path d="M350.4 326.4v2.6M374.7 326.4v2.6M399.0 326.4v2.6M423.4 326.4v2.6M447.7 326.4v2.6M472.0 326.4v2.6M496.3 326.4v2.6M326.5 54.2h-2.6M326.5 90.7h-2.6M326.5 127.1h-2.6M326.5 163.5h-2.6M326.5 200.0h-2.6M326.5 236.4h-2.6M326.5 272.9h-2.6M326.5 309.3h-2.6" stroke="#4a4a4a" stroke-width="0.8" fill="none"/>
<g font-family="'DejaVu Sans','Liberation Sans',sans-serif" font-size="7.7" fill="#262626" stroke="#262626" stroke-width="0.15">
<text x="350.4" y="337.6" text-anchor="middle">−12.5</text>
<text x="374.7" y="337.6" text-anchor="middle">−10.0</text>
<text x="399.0" y="337.6" text-anchor="middle">−7.5</text>
<text x="423.4" y="337.6" text-anchor="middle">−5.0</text>
<text x="447.7" y="337.6" text-anchor="middle">−2.5</text>
<text x="472.0" y="337.6" text-anchor="middle">0.0</text>
<text x="496.3" y="337.6" text-anchor="middle">2.5</text>
<text x="321.0" y="57.0" text-anchor="end">4</text>
<text x="321.0" y="93.5" text-anchor="end">2</text>
<text x="321.0" y="129.9" text-anchor="end">0</text>
<text x="321.0" y="166.3" text-anchor="end">−2</text>
<text x="321.0" y="202.8" text-anchor="end">−4</text>
<text x="321.0" y="239.2" text-anchor="end">−6</text>
<text x="321.0" y="275.7" text-anchor="end">−8</text>
<text x="321.0" y="312.1" text-anchor="end">−10</text>
<text x="538.8" y="330.0">0</text>
<text x="538.8" y="299.2">1</text>
<text x="538.8" y="268.4">2</text>
<text x="538.8" y="237.7">3</text>
<text x="538.8" y="206.9">4</text>
<text x="538.8" y="176.1">5</text>
<text x="538.8" y="145.3">6</text>
<text x="538.8" y="114.6">7</text>
<text x="538.8" y="83.8">8</text>
<text x="538.8" y="53.0">9</text>
</g>
<rect x="519.1" y="49.5" width="13.7" height="277.0" fill="url(#vir)" stroke="#4a4a4a" stroke-width="0.8"/>
<path d="M532.8 326.5h2.6M532.8 295.7h2.6M532.8 264.9h2.6M532.8 234.2h2.6M532.8 203.4h2.6M532.8 172.6h2.6M532.8 141.8h2.6M532.8 111.1h2.6M532.8 80.3h2.6M532.8 49.5h2.6" stroke="#4a4a4a" stroke-width="0.8" fill="none"/>
<g font-family="'DejaVu Serif','Liberation Serif',serif" fill="#111" stroke="#111" stroke-width="0.25">
<text x="349.8" y="43.0" font-size="10.2" textLength="154.6" lengthAdjust="spacingAndGlyphs">K-Means Clustering  Results</text>
<text x="380.0" y="348.4" font-size="8.6" stroke-width="0.15" textLength="84.0" lengthAdjust="spacingAndGlyphs">Encoded Feature 1</text>
<text transform="translate(300.7 232.2) rotate(-90)" font-family="'Liberation Serif',serif" font-size="11" textLength="85.1" lengthAdjust="spacingAndGlyphs">Encoded Feature 2</text>
</g>
<text x="276.8" y="25.9" font-family="'DejaVu Sans','Liberation Sans',sans-serif" font-size="21.5" fill="#000" stroke="#000" stroke-width="0.45">(b)</text>
</g>
<g id="panel-c">
<path d="M167.2 483.2L161.7 484.6L161.8 484.7L169.1 487.6L167.5 483.2Z" fill="#00b976" stroke="#00b976" stroke-width="0.5"/>
<path d="M204.3 390.1L203.7 397.4L203.2 407.1L203.2 407.2L203.2 407.3L201.5 414.0L204.3 414.0L207.3 423.0L211.0 423.0L209.7 417.7L209.7 417.6L207.7 407.2L207.7 407.2L206.1 397.5L204.7 390.2L204.7 390.1L204.5 388.1L204.3 390.1Z" fill="#37488c" stroke="#37488c" stroke-width="0.5"/>
<path d="" fill="#008490" stroke="#008490" stroke-width="0.5"/>
<path d="M198.7 427.3L197.6 431.0L202.3 431.0L203.5 436.0L205.7 436.0L206.5 431.0L212.1 431.0L212.1 429.2L211.9 427.2L211.0 423.0L207.3 423.0L204.3 414.0L201.5 414.0L200.6 417.7L198.7 427.2Z" fill="#50237b" stroke="#50237b" stroke-width="0.5"/>
<path d="M215.8 452.2L215.8 452.2L213.7 446.4L213.6 446.3L213.6 446.2L213.6 446.1L213.4 443.9L213.0 443.9L208.3 449.0L203.9 455.6L201.3 463.4L209.1 464.7L215.3 457.0L217.0 455.2Z" fill="#00cf4d" stroke="#00cf4d" stroke-width="0.5"/>
<path d="M194.7 446.6L194.7 446.7L194.6 446.8L194.6 446.9L194.5 447.0L194.5 447.1L193.6 448.4L203.9 455.6L208.3 449.0L213.0 443.9L213.4 443.9L213.1 440.1L212.3 431.0L212.1 431.0L206.5 431.0L205.7 436.0L203.5 436.0L202.3 431.0L197.6 431.0L195.0 440.6L194.7 446.5Z" fill="#008490" stroke="#008490" stroke-width="0.5"/>
<path d="M190.6 452.5L188.8 454.9L192.3 459.0L193.8 463.4L201.3 463.4L203.9 455.6L193.6 448.4L190.7 452.5Z" fill="#006890" stroke="#006890" stroke-width="0.5"/>
<path d="M219.9 495.1L219.9 495.0L223.8 492.0L224.8 488.4L223.2 482.1L223.2 481.9L222.3 473.8L221.2 468.4L219.7 461.4L218.0 457.8L218.0 457.7L217.0 455.2L215.3 457.0L209.1 464.7L207.8 464.7L207.8 488.5L216.9 486.8L218.1 496.5Z" fill="#009f89" stroke="#009f89" stroke-width="0.5"/>
<path d="M193.6 491.3L193.7 491.4L193.8 491.4L193.9 491.5L194.0 491.6L194.1 491.6L194.2 491.7L194.3 491.8L194.4 491.9L196.8 496.5L203.9 489.4L207.8 488.5L207.8 464.7L201.3 463.4L193.8 463.4L194.3 477.0L193.5 491.3Z" fill="#4e0055" stroke="#4e0055" stroke-width="0.5"/>
<path d="M197.4 497.5L200.3 504.3L204.9 508.9L209.0 509.7L211.6 507.4L211.7 505.7L211.7 505.6L211.7 505.5L211.8 505.3L214.0 499.9L214.0 499.8L214.1 499.7L214.2 499.6L214.3 499.5L214.4 499.5L218.1 496.5L216.9 486.8L207.8 488.5L203.9 489.4L196.8 496.5L197.4 497.4Z" fill="#ffe800" stroke="#ffe800" stroke-width="0.5"/>
<path d="M182.7 473.8L182.7 473.9L182.6 474.0L180.9 478.4L180.9 478.5L180.8 478.6L180.7 478.7L180.7 478.8L176.9 482.8L176.8 482.9L176.7 483.0L176.6 483.0L176.5 483.1L176.4 483.1L176.2 483.2L176.1 483.2L176.0 483.2L167.5 483.2L169.1 487.6L169.7 487.9L177.5 490.3L187.3 490.3L187.4 490.3L187.5 490.3L193.5 491.3L193.5 491.3L194.3 477.0L193.8 463.4L192.3 459.0L188.8 454.9L186.3 458.0L183.8 463.0L183.2 468.3L182.7 473.7ZM207.8 464.7L209.1 464.7L201.3 463.4Z" fill="#a3de00" stroke="#a3de00" stroke-width="0.5"/>
<path d="M211.8 508.0L232.9 539.5" stroke="#ffe800" stroke-width="1.8" stroke-linecap="round" fill="none"/>
<path d="M167.3 482.8L165.3 483.0L163.3 483.3L161.3 483.7L159.3 484.1L157.3 484.7L155.3 485.3L153.3 486.1L151.3 486.9L149.3 487.9L147.3 489.0L145.3 490.2L143.3 491.6L141.3 493.1" stroke="#00b976" stroke-width="1.5" stroke-linecap="round" fill="none"/>
<path d="M196.7 494.9h0M195.0 491.9h0M197.0 496.7h0M195.9 494.3h0M196.5 495.0h0M196.7 493.9h0M195.5 494.3h0M204.6 465.3h0M206.0 488.9h0M206.5 472.4h0M203.6 489.2h0M200.0 464.2h0M205.3 465.3h0M201.7 492.1h0M207.6 469.1h0M208.1 474.7h0M200.1 464.6h0M194.2 473.7h0M195.1 466.5h0M204.7 488.5h0M192.9 464.4h0M193.3 486.8h0M207.0 477.0h0M196.9 464.2h0M195.0 469.4h0M203.6 465.3h0M202.1 490.0h0M206.4 469.3h0M193.7 491.4h0M194.6 484.4h0M207.1 485.5h0M206.8 469.2h0M206.7 468.7h0M207.3 475.7h0M206.4 478.6h0M206.2 486.3h0M194.3 488.8h0M206.5 472.4h0M197.5 496.5h0M195.3 474.3h0M206.5 476.0h0M194.6 474.5h0M205.3 488.0h0M204.6 465.4h0M194.9 469.3h0M195.1 482.0h0M207.0 475.0h0M194.8 472.5h0M206.6 472.2h0M194.8 471.4h0M208.6 487.2h0M206.4 484.9h0M208.5 486.1h0M206.6 472.5h0M207.6 486.5h0M200.5 491.8h0M203.9 464.3h0M203.8 463.8h0M207.6 484.1h0M206.9 486.8h0M207.1 486.1h0M200.1 491.9h0M194.7 478.7h0M195.0 490.5h0M207.1 484.0h0M194.2 465.1h0M206.8 463.6h0M208.0 466.4h0M207.4 469.6h0" stroke="#4e0055" stroke-width="2.35" stroke-linecap="round" fill="none"/>
<path d="M198.6 430.2h0M199.6 422.2h0M198.9 424.1h0M198.6 428.6h0M199.6 419.6h0M197.7 430.3h0M211.0 427.8h0M211.3 428.3h0M199.6 425.3h0M200.7 423.0h0M200.7 416.3h0M198.0 428.2h0M201.2 414.9h0M200.1 422.0h0M201.9 414.7h0M200.2 423.2h0M211.1 430.6h0M199.5 425.4h0M200.3 420.2h0M211.9 429.4h0M200.4 424.5h0M199.2 428.1h0M210.8 423.6h0M200.2 420.9h0M210.8 426.8h0M211.0 425.8h0M211.6 430.3h0M199.6 426.5h0M201.9 415.9h0M198.1 430.0h0M201.1 419.0h0M201.1 414.7h0M212.5 429.3h0M196.2 428.5h0M197.7 422.4h0M198.4 414.3h0M195.8 414.2h0M197.9 423.3h0M195.6 422.9h0M197.3 414.7h0M198.2 421.2h0M198.9 418.2h0M199.3 415.8h0M193.1 427.9h0M195.0 431.3h0M189.1 431.0h0M192.4 426.4h0M195.5 423.0h0M196.1 428.4h0M199.1 415.5h0M185.3 430.5h0M188.2 419.7h0M198.1 421.8h0M197.2 418.5h0M201.8 433.8h0M210.8 431.1h0M211.5 426.9h0M199.4 430.3h0M204.2 416.9h0M206.0 418.0h0M207.3 422.9h0M202.5 413.1h0M199.0 430.5h0M206.5 417.7h0M206.3 421.6h0M204.4 416.7h0M211.4 424.3h0M201.2 415.5h0M204.6 434.8h0M202.9 433.8h0M210.9 427.0h0M202.3 432.3h0M206.6 422.7h0M204.0 435.4h0M199.9 429.9h0M208.9 429.8h0M206.1 421.3h0M208.4 423.9h0M205.0 431.9h0M207.4 422.8h0M205.5 421.9h0M209.8 431.0h0M210.4 429.9h0M205.8 421.0h0M200.1 430.2h0" stroke="#50237b" stroke-width="2.35" stroke-linecap="round" fill="none"/>
<path d="M210.0 416.0h0M206.6 396.9h0M207.1 400.6h0M204.3 396.5h0M207.9 408.9h0M207.4 407.2h0M204.9 396.6h0M208.8 412.0h0M203.5 400.3h0M205.8 401.0h0M203.6 396.4h0M206.2 404.6h0M203.0 401.1h0M203.3 396.1h0M203.4 409.3h0M204.5 405.7h0M202.8 408.4h0M207.5 410.7h0M204.5 404.2h0M204.1 394.3h0M210.3 417.9h0M208.2 415.0h0M207.3 411.5h0M207.0 409.1h0M204.4 389.2h0M205.1 391.3h0M206.6 403.5h0M203.1 411.7h0M206.1 400.2h0M201.6 413.1h0M208.1 414.5h0M205.4 392.0h0M203.5 398.8h0M204.2 401.3h0M203.2 399.1h0M208.8 415.7h0M206.3 402.8h0M202.5 412.7h0M203.2 405.7h0M205.0 395.0h0M204.2 406.4h0M207.9 411.6h0M204.4 389.6h0M202.3 411.3h0M203.8 391.2h0M203.4 407.5h0M203.9 388.7h0M210.2 419.0h0M208.2 413.4h0M203.6 405.3h0M204.9 393.4h0M206.3 401.5h0M204.8 395.2h0M207.6 408.4h0M206.8 403.9h0M204.6 396.4h0M209.0 415.3h0M206.4 397.3h0M205.9 394.2h0M210.1 416.5h0M206.5 399.2h0M203.2 401.4h0M205.5 397.2h0M205.3 395.8h0M210.9 421.2h0M208.7 413.0h0M203.0 400.2h0M204.7 385.5h0M204.3 406.7h0M202.0 410.1h0M203.8 391.1h0M205.6 398.2h0M206.5 400.5h0M207.8 408.9h0M206.3 404.9h0M204.5 387.9h0M206.7 402.6h0M209.4 418.0h0M206.1 400.3h0M204.6 385.2h0M202.9 402.5h0M208.2 415.9h0M204.0 407.5h0M206.1 404.2h0M204.3 402.7h0M203.7 407.2h0M203.5 407.1h0M204.3 397.3h0M204.7 392.4h0M204.2 399.7h0M205.3 398.0h0M206.4 402.0h0M203.6 400.9h0M204.9 395.6h0M202.3 411.0h0M203.9 401.4h0M210.0 418.5h0M204.5 396.9h0M202.6 411.2h0M212.5 420.9h0M202.1 395.6h0M199.8 413.4h0M202.4 394.8h0M201.0 400.0h0M199.8 412.8h0M200.8 407.4h0M199.9 411.5h0M201.6 406.4h0M201.9 393.9h0M201.8 397.1h0M201.2 397.5h0M201.2 398.8h0M201.6 404.0h0M200.0 412.2h0M207.7 395.0h0M210.1 411.0h0M209.9 405.1h0M208.9 403.2h0M212.7 421.5h0M211.4 416.4h0M209.0 403.9h0M214.4 413.2h0M208.5 401.5h0M209.1 401.6h0M224.9 420.0h0M208.3 400.0h0M209.0 405.1h0M209.1 403.0h0M210.5 410.8h0M209.6 408.7h0M212.8 416.6h0M210.5 412.3h0M205.2 387.8h0M204.6 396.6h0M205.4 399.2h0M204.0 386.7h0M206.7 406.1h0M204.0 392.4h0M204.6 394.2h0M205.2 389.9h0M203.9 391.1h0M203.6 383.0h0M204.3 403.8h0M204.1 400.9h0M204.2 407.0h0M203.7 403.5h0M205.6 396.9h0M204.5 381.3h0M203.8 405.9h0M204.7 401.2h0M204.4 394.7h0M205.2 393.9h0M204.2 397.3h0M205.9 399.8h0M204.6 395.1h0M204.1 390.0h0M204.2 382.8h0M204.2 391.2h0M205.0 383.2h0M204.6 390.7h0M204.5 403.7h0M205.5 394.1h0M204.1 398.9h0M203.7 392.0h0M205.5 395.4h0M204.4 388.1h0M205.6 400.9h0M203.2 390.7h0M205.3 392.6h0M204.4 391.2h0M204.6 385.0h0M204.4 386.7h0M207.4 403.8h0M204.3 395.8h0M204.7 384.8h0M202.7 406.6h0M205.4 400.8h0M203.7 395.0h0M203.4 396.5h0M204.4 384.5h0M204.7 385.4h0M205.5 398.2h0M204.3 398.3h0M204.7 391.1h0M203.7 402.1h0M205.1 386.6h0M204.1 384.9h0M204.6 382.3h0M204.4 394.6h0M205.7 395.9h0M204.1 397.9h0M204.7 383.8h0M204.6 403.8h0M204.2 406.4h0M204.1 387.0h0M204.8 386.9h0M201.9 414.2h0M205.9 415.9h0M206.8 419.2h0M205.6 416.3h0M207.7 421.8h0M207.3 419.5h0M203.8 417.2h0M202.3 414.9h0M202.2 413.1h0M202.9 413.7h0M205.9 417.1h0" stroke="#37488c" stroke-width="2.35" stroke-linecap="round" fill="none"/>
<path d="M193.7 449.2h0M192.9 451.3h0M190.1 453.4h0M192.9 448.9h0M188.6 454.5h0M193.1 450.5h0M193.8 449.9h0M194.8 448.7h0M189.2 454.5h0M192.9 450.2h0M192.1 452.1h0M190.2 455.0h0M190.0 454.7h0M190.1 453.3h0M191.2 446.8h0M188.4 452.6h0M188.9 451.9h0M188.2 447.0h0M201.1 463.7h0M194.7 449.1h0M204.0 453.9h0M193.2 459.1h0M201.1 462.9h0M198.4 462.3h0M199.7 454.0h0M201.5 462.4h0M202.8 461.0h0M204.1 455.7h0M194.3 462.7h0M192.2 461.5h0M189.6 455.0h0M195.0 462.7h0M201.3 459.3h0M194.8 462.5h0M193.0 460.6h0M201.5 453.9h0M190.1 454.9h0M202.2 458.7h0M190.6 456.2h0M199.0 462.0h0M198.1 453.0h0M199.6 464.2h0M194.0 463.7h0M188.8 455.2h0M192.0 457.9h0M199.8 462.7h0M197.1 451.3h0M193.8 460.6h0M201.9 460.6h0" stroke="#006890" stroke-width="2.35" stroke-linecap="round" fill="none"/>
<path d="M213.3 439.4h0M195.8 441.8h0M212.5 428.4h0M196.1 437.8h0M213.3 438.6h0M213.1 441.2h0M212.5 438.1h0M196.0 440.8h0M196.6 433.5h0M213.1 439.2h0M195.8 445.5h0M194.0 448.2h0M195.5 437.6h0M213.1 435.2h0M212.6 436.9h0M195.3 439.2h0M195.8 435.7h0M196.1 437.4h0M197.4 434.4h0M212.5 433.0h0M194.7 441.3h0M194.7 441.5h0M197.1 431.1h0M197.3 434.6h0M212.6 428.2h0M195.5 437.7h0M212.5 440.2h0M212.2 434.7h0M213.1 437.8h0M196.5 434.1h0M195.5 441.3h0M194.4 448.2h0M196.7 432.7h0M212.9 442.2h0M212.4 443.8h0M194.2 448.4h0M195.5 444.1h0M196.9 437.9h0M195.2 446.8h0M211.7 435.9h0M195.1 446.0h0M197.8 432.8h0M196.5 438.2h0M195.0 439.4h0M213.7 442.1h0M212.3 429.1h0M212.1 439.6h0M213.0 437.3h0M196.9 437.0h0M211.3 431.7h0M212.7 432.5h0M197.9 432.1h0M195.0 447.0h0M194.8 447.2h0M212.0 439.8h0M213.0 445.4h0M212.5 430.6h0M213.4 437.7h0M195.6 444.6h0M212.5 433.3h0M197.2 430.8h0M211.7 436.2h0M213.2 441.1h0M212.6 434.7h0M194.5 446.7h0M213.2 424.4h0M215.4 443.9h0M213.4 425.2h0M214.2 428.1h0M214.8 431.9h0M213.6 426.8h0M182.0 443.3h0M195.8 431.8h0M193.1 442.5h0M189.4 444.1h0M186.0 444.2h0M186.3 432.3h0M192.9 435.4h0M193.7 433.4h0M194.7 433.7h0M190.8 433.7h0M191.4 438.1h0M191.9 446.2h0M192.6 442.4h0M186.4 433.7h0M191.3 446.2h0M193.1 443.8h0M215.6 440.5h0M224.1 431.7h0M217.9 443.6h0M219.1 433.9h0M217.1 428.1h0M217.4 438.6h0M218.4 431.4h0M214.0 427.9h0M213.8 429.3h0M213.4 425.6h0M220.1 434.9h0M214.9 443.2h0M216.6 432.1h0M218.0 431.0h0M191.6 443.7h0M183.8 441.3h0M192.2 442.1h0M190.4 444.2h0M193.5 449.4h0M199.6 453.0h0M209.7 447.5h0M198.9 431.2h0M208.5 448.6h0M211.5 444.6h0M198.4 451.6h0M210.1 445.8h0M210.3 431.7h0M203.0 434.1h0M209.4 449.2h0M208.9 430.4h0M205.2 452.7h0M212.1 429.6h0M207.6 432.8h0M205.0 437.6h0M212.5 444.8h0M206.5 434.0h0M204.2 436.6h0M197.9 432.2h0M212.1 428.8h0M198.0 451.9h0M201.2 452.9h0M199.2 451.3h0M202.8 431.1h0M200.3 453.2h0M212.2 445.0h0M206.0 451.1h0M205.9 435.3h0M207.4 448.4h0M207.0 449.5h0M206.2 435.6h0M202.8 431.8h0M202.6 453.3h0M204.1 454.6h0M211.9 431.8h0M209.7 448.0h0M200.6 451.9h0M207.8 432.7h0M198.4 430.8h0M204.5 453.3h0" stroke="#008490" stroke-width="2.35" stroke-linecap="round" fill="none"/>
<path d="M218.7 494.8h0M223.5 485.1h0M219.9 494.1h0M224.0 485.1h0M223.4 490.0h0M223.1 484.7h0M220.3 465.9h0M217.8 495.4h0M224.2 491.0h0M218.0 458.7h0M222.1 479.1h0M220.6 463.5h0M218.7 459.9h0M220.5 464.0h0M220.1 466.7h0M218.9 462.0h0M221.6 477.5h0M218.4 460.9h0M224.7 490.1h0M217.9 456.9h0M219.5 465.5h0M218.8 459.5h0M221.8 475.9h0M222.3 493.1h0M217.3 455.3h0M219.8 465.6h0M219.9 463.1h0M222.3 481.7h0M221.3 472.4h0M224.4 484.9h0M222.2 472.4h0M217.2 458.7h0M224.3 490.3h0M222.6 478.7h0M222.5 492.9h0M224.6 489.8h0M221.1 471.9h0M221.9 477.2h0M217.5 459.5h0M221.4 467.3h0M222.0 481.0h0M220.5 494.1h0M222.5 481.2h0M222.7 493.3h0M221.0 466.0h0M216.8 457.0h0M221.7 471.9h0M221.8 470.8h0M218.3 459.9h0M223.7 485.2h0M217.5 455.9h0M218.7 458.2h0M221.9 478.2h0M222.2 472.1h0M224.0 487.6h0M220.1 461.6h0M218.2 457.6h0M223.5 492.0h0M222.0 493.3h0M219.1 462.4h0M220.7 471.5h0M219.0 462.2h0M221.9 474.5h0M220.7 471.1h0M223.9 487.5h0M222.5 476.4h0M219.2 463.1h0M218.4 496.4h0M225.1 489.4h0M220.9 468.1h0M222.6 473.2h0M219.2 464.3h0M219.4 494.2h0M218.9 459.2h0M221.2 471.8h0M223.3 484.8h0M222.6 475.7h0M216.3 456.5h0M223.2 463.2h0M221.5 459.5h0M220.5 458.9h0M225.9 485.3h0M222.2 464.1h0M225.7 476.1h0M222.4 465.6h0M227.6 490.2h0M221.4 457.4h0M223.5 466.7h0M224.5 471.7h0M220.0 458.2h0M226.0 484.6h0M224.8 471.9h0M225.0 462.4h0M225.8 484.6h0M220.3 497.3h0M222.1 450.2h0M218.8 454.9h0M224.1 469.6h0M222.3 496.5h0M225.3 492.9h0M224.3 458.4h0M224.5 479.7h0M224.6 470.0h0M225.8 465.3h0M229.1 491.4h0M223.6 456.6h0M219.6 453.1h0M226.2 494.5h0M224.9 476.7h0M226.7 470.5h0M224.4 471.1h0M224.1 493.9h0M223.7 494.8h0M226.5 483.4h0M226.4 485.1h0M228.0 470.7h0M225.9 480.3h0M226.9 467.9h0M226.2 455.2h0M226.9 491.5h0M222.4 459.8h0M225.6 471.2h0M224.7 455.0h0M227.5 481.0h0M223.2 458.5h0M227.9 493.1h0M224.4 454.4h0M223.6 467.4h0M228.5 492.8h0M223.3 496.6h0M235.7 493.1h0M225.8 471.5h0M219.1 454.0h0M222.8 458.1h0M226.0 480.7h0M229.3 457.1h0M226.3 477.0h0M226.0 483.6h0M226.6 479.0h0M226.1 483.9h0M229.1 485.5h0M220.8 452.2h0M224.6 473.1h0M224.5 473.4h0M222.6 453.5h0M223.1 468.6h0M220.1 451.9h0M219.1 452.6h0M222.6 463.2h0M229.8 481.6h0M229.3 485.9h0M224.2 493.6h0M231.4 464.2h0M229.3 481.0h0M208.3 482.8h0M207.6 472.5h0M214.6 458.4h0M208.4 476.3h0M213.1 460.1h0M219.3 495.7h0M216.8 456.2h0M209.3 475.2h0M209.4 481.1h0M208.1 476.0h0M208.7 477.5h0M219.3 494.7h0M217.9 488.4h0M208.8 473.4h0M212.6 460.4h0M214.8 458.7h0M211.8 463.0h0M207.6 483.7h0M217.0 488.8h0M219.0 490.9h0M215.6 456.8h0M217.2 487.5h0M209.1 477.9h0M212.1 462.7h0M213.1 458.6h0M208.3 488.0h0M218.7 495.6h0M215.3 486.6h0M208.0 475.9h0M207.7 473.8h0M216.8 456.0h0M208.7 468.3h0M208.8 483.4h0M208.6 477.2h0M209.2 484.6h0M218.3 488.9h0M214.6 459.0h0M216.4 456.6h0M207.3 466.7h0M207.9 473.3h0M207.5 484.2h0M219.1 491.5h0M209.1 477.0h0M209.4 473.5h0M208.3 477.5h0M214.3 458.6h0M209.5 486.6h0M218.8 493.5h0M208.2 478.9h0M208.8 475.5h0M211.9 487.7h0M208.1 464.1h0M209.0 477.6h0" stroke="#009f89" stroke-width="2.35" stroke-linecap="round" fill="none"/>
<path d="M163.5 484.6h0M161.5 484.9h0M168.3 486.3h0M164.2 484.3h0M165.7 484.8h0M165.3 485.5h0M165.9 486.8h0M166.5 487.1h0M165.5 486.7h0M162.9 485.0h0M167.8 487.2h0M165.2 485.7h0M165.1 485.8h0M164.0 484.0h0M165.7 483.1h0M165.6 483.9h0M164.6 483.5h0M163.3 485.1h0M166.6 483.7h0M167.2 492.9h0M168.0 490.9h0M168.4 489.3h0M159.5 493.6h0M168.3 494.2h0M171.9 498.9h0M172.7 500.0h0M160.7 486.5h0M161.6 492.0h0M161.4 490.9h0M166.4 490.4h0M153.9 488.3h0M157.2 492.1h0M155.5 489.2h0M160.9 497.0h0M159.9 490.7h0M167.6 494.5h0M163.7 491.4h0M162.7 496.9h0M165.7 500.2h0M160.0 493.0h0M172.8 502.8h0M165.2 496.2h0M172.2 501.9h0M168.9 501.4h0M158.7 484.7h0M164.6 498.3h0M157.2 490.8h0M171.1 493.2h0M155.8 494.0h0M169.8 498.9h0M156.5 487.8h0M165.4 489.3h0M166.9 493.8h0M165.4 488.4h0M156.1 494.3h0M163.0 492.8h0M166.2 488.3h0M159.3 487.1h0M172.5 499.4h0M168.8 490.5h0M161.6 495.9h0M162.5 491.9h0M158.3 489.7h0M157.7 485.6h0M159.1 488.9h0M161.1 490.0h0M161.0 495.3h0M164.6 495.3h0M172.1 499.3h0M169.3 501.5h0M166.0 488.3h0M162.2 491.6h0M161.7 491.7h0M163.9 496.4h0M161.5 491.8h0M161.7 486.7h0M168.3 491.4h0M168.0 496.6h0M159.7 495.7h0M172.5 496.9h0M172.3 499.8h0M172.5 501.6h0M171.2 496.9h0M170.4 510.5h0M156.6 508.1h0M172.1 503.5h0M160.7 512.4h0M152.9 508.5h0M150.0 519.6h0M150.3 511.6h0M151.6 505.3h0M154.4 505.3h0M147.7 510.5h0M160.0 512.5h0M132.7 500.7h0M119.7 519.5h0M132.0 502.1h0M138.5 495.6h0M139.1 494.9h0M137.4 496.7h0M140.7 493.5h0M138.3 495.5h0M134.7 498.7h0M121.0 517.5h0M130.3 504.3h0M140.0 494.4h0M135.8 497.8h0M137.9 496.3h0M134.0 499.9h0M139.3 495.0h0M135.5 498.2h0M127.8 507.0h0M120.6 517.7h0M158.9 486.2h0M159.9 487.1h0M148.1 500.0h0M166.2 483.9h0M156.6 486.1h0M162.1 485.5h0M147.2 494.0h0M149.4 514.2h0M149.4 501.1h0M151.5 487.5h0M148.5 507.4h0M151.1 490.8h0M136.3 501.9h0M159.6 489.2h0M136.3 515.5h0M157.9 486.1h0M165.8 483.1h0M145.1 515.2h0M156.7 492.9h0M164.3 484.1h0M158.0 497.0h0M164.4 483.4h0M161.2 487.4h0M157.8 490.3h0M155.6 487.5h0M157.0 490.4h0M153.1 489.8h0M162.4 488.7h0M160.7 484.0h0M158.1 504.7h0M163.8 484.1h0M154.9 520.4h0M163.3 484.8h0M147.5 509.9h0M157.5 485.6h0M158.4 485.9h0M156.7 492.4h0M152.9 495.4h0M165.1 486.7h0M155.3 486.8h0M138.4 514.0h0M153.5 488.8h0M149.1 494.4h0M135.8 517.7h0M167.3 483.5h0M129.8 519.2h0M150.9 496.2h0M155.4 491.8h0M161.2 491.2h0M161.9 484.0h0M156.4 485.2h0M156.2 503.6h0M154.6 490.1h0M158.7 500.8h0M155.8 485.4h0M153.3 509.4h0M130.4 516.6h0M160.6 487.7h0M152.4 496.1h0M148.1 506.0h0M158.2 485.5h0M155.1 486.5h0M164.8 483.5h0M160.1 490.2h0M139.6 519.9h0M154.5 485.5h0M161.4 487.8h0M149.2 502.7h0M152.6 493.5h0M153.5 507.0h0M157.2 502.5h0M160.4 484.4h0M163.6 484.2h0M148.6 495.1h0M165.2 486.2h0M154.4 492.3h0M159.1 486.7h0M151.4 497.6h0M149.2 506.1h0M156.4 485.7h0M156.0 502.4h0M152.7 494.0h0M164.0 489.8h0M157.1 488.6h0M161.7 483.7h0M165.2 483.8h0M151.4 497.7h0M145.1 512.1h0M160.0 485.6h0M149.3 505.0h0M152.6 487.9h0M142.0 492.6h0M150.5 490.7h0M156.2 494.7h0M148.6 513.9h0M148.3 489.6h0M132.1 508.2h0M157.0 489.7h0M132.1 519.4h0M136.7 512.4h0M155.5 492.9h0M152.4 490.8h0M166.0 483.0h0M144.3 495.8h0M160.4 485.8h0M150.4 495.0h0M156.1 491.2h0M160.4 497.0h0M160.3 488.1h0M160.5 486.9h0M159.6 495.6h0M157.0 489.3h0M161.6 484.1h0M160.9 484.2h0M161.2 484.1h0M156.6 485.9h0M151.8 488.6h0M156.9 485.8h0M148.1 491.6h0M155.4 486.6h0M154.1 487.0h0M159.2 485.1h0M152.2 488.6h0M163.2 483.7h0M161.1 484.0h0M149.0 494.0h0M139.8 507.3h0M160.1 485.3h0M156.2 487.9h0M162.5 484.0h0M155.7 488.2h0M135.1 515.8h0M149.6 493.5h0M151.5 491.7h0M146.5 497.8h0M151.3 491.5h0M158.7 486.3h0M161.8 484.8h0M139.8 514.9h0M151.1 494.9h0M155.2 490.2h0M161.2 486.3h0M155.0 489.9h0M153.9 491.5h0M154.0 491.7h0M160.7 486.2h0M158.5 489.3h0M150.5 500.2h0M153.9 495.0h0M159.9 487.2h0M147.0 506.9h0M158.0 488.7h0M146.0 508.8h0M159.1 488.4h0M154.7 497.2h0M161.5 488.4h0M161.4 488.1h0M161.6 487.4h0M156.1 494.3h0M154.3 497.5h0M155.0 495.8h0M146.9 514.7h0M147.7 512.9h0M156.5 493.4h0M162.0 486.7h0M155.2 499.8h0M157.8 494.3h0M160.3 490.8h0M161.0 489.9h0M155.3 499.8h0M148.8 516.9h0M162.1 488.3h0M152.2 514.0h0M156.7 500.5h0M155.2 504.2h0M150.9 518.6h0M157.3 498.7h0M157.5 498.3h0M159.3 495.2h0M68.1 633.1h0M67.7 617.3h0M83.7 610.5h0M100.1 602.3h0M85.9 594.7h0M75.1 582.5h0M93.7 577.9h0M117.7 582.5h0M114.1 578.9h0M110.9 566.3h0M118.1 563.3h0M99.5 545.5h0M110.1 547.7h0M130.1 556.1h0M133.9 553.1h0M146.1 553.5h0M133.1 547.5h0M121.3 543.3h0M134.1 542.3h0M135.3 540.7h0M118.7 537.9h0M115.7 535.5h0M130.1 534.3h0M157.9 534.9h0M120.1 532.3h0M133.7 531.9h0M117.1 529.9h0M137.7 529.3h0M159.1 528.5h0M129.1 527.5h0M161.1 526.9h0M140.7 526.3h0M145.1 526.3h0M116.5 525.5h0M141.7 523.9h0M131.1 522.9h0M149.1 522.3h0M153.1 521.9h0M157.5 521.5h0M134.1 520.9h0M141.7 520.9h0M169.1 524.9h0M169.0 484.8h0M168.2 486.4h0" stroke="#00b976" stroke-width="2.35" stroke-linecap="round" fill="none"/>
<path d="M214.3 446.8h0M216.3 452.3h0M213.9 447.0h0M213.8 448.2h0M213.2 444.4h0M216.4 456.4h0M215.5 453.6h0M216.6 453.3h0M214.5 449.7h0M214.9 449.3h0M215.4 452.1h0M217.0 449.4h0M216.4 448.7h0M218.3 449.0h0M217.7 447.3h0M218.6 451.4h0M216.9 449.2h0M216.7 448.9h0M217.7 446.6h0M218.5 450.1h0M217.9 452.4h0M218.8 453.8h0M218.8 450.5h0M218.2 453.3h0M215.7 447.3h0M217.2 448.5h0M215.8 447.2h0M203.9 456.1h0M203.1 462.3h0M202.2 458.6h0M211.0 447.3h0M213.2 460.6h0M204.2 457.9h0M202.7 461.7h0M205.9 463.3h0M201.8 459.5h0M209.3 447.9h0M204.8 464.1h0M206.8 462.9h0M201.9 460.6h0M203.6 454.8h0M203.9 458.4h0M215.5 455.8h0M204.9 457.1h0M213.7 458.2h0M214.9 458.4h0M213.3 443.2h0M209.2 463.5h0M207.4 450.9h0M217.1 455.8h0M216.4 454.2h0M208.0 464.0h0M203.8 463.3h0M211.6 446.6h0M204.7 457.5h0M211.2 446.2h0" stroke="#00cf4d" stroke-width="2.35" stroke-linecap="round" fill="none"/>
<path d="M185.3 460.3h0M193.7 491.0h0M181.4 476.9h0M184.8 461.5h0M181.6 489.7h0M189.9 491.1h0M184.2 467.0h0M184.7 464.4h0M185.3 460.6h0M174.2 483.8h0M180.4 478.2h0M184.3 463.9h0M181.0 490.4h0M181.9 475.0h0M189.3 489.9h0M188.6 490.3h0M184.5 489.4h0M172.2 487.6h0M174.3 488.4h0M192.9 491.6h0M181.9 476.1h0M180.8 479.0h0M179.4 480.6h0M186.5 457.2h0M174.6 483.4h0M184.0 463.4h0M174.3 482.8h0M184.2 490.5h0M169.8 483.1h0M172.7 483.6h0M183.8 472.2h0M183.7 463.8h0M174.7 484.4h0M183.6 490.3h0M182.0 478.5h0M186.5 489.1h0M178.5 481.5h0M177.6 483.8h0M189.2 456.1h0M183.1 465.8h0M185.9 457.6h0M186.0 458.0h0M187.9 489.7h0M185.5 461.7h0M175.1 484.3h0M174.6 489.9h0M171.0 487.1h0M178.8 481.3h0M185.5 460.7h0M186.1 489.7h0M179.2 481.7h0M178.6 490.3h0M174.4 489.8h0M170.5 487.3h0M180.0 481.2h0M182.7 471.3h0M170.6 488.0h0M171.2 482.7h0M182.1 489.3h0M177.5 489.2h0M182.8 473.3h0M180.3 489.8h0M188.6 455.1h0M183.6 462.2h0M185.5 460.3h0M189.7 491.0h0M185.2 459.3h0M185.4 461.6h0M182.5 490.5h0M183.2 468.1h0M188.6 456.9h0M175.3 489.8h0M183.0 470.1h0M182.8 468.7h0M182.6 475.2h0M178.2 482.2h0M184.5 464.3h0M189.0 491.0h0M194.0 492.5h0M171.9 487.9h0M182.1 489.8h0M182.4 474.2h0M180.5 490.6h0M180.0 479.9h0M179.4 481.5h0M174.7 483.7h0M185.2 489.7h0M174.7 488.2h0M176.8 484.3h0M182.9 472.8h0M167.0 482.7h0M186.6 459.6h0M169.9 483.5h0M170.6 483.0h0M186.6 459.9h0M179.0 489.5h0M175.4 483.5h0M170.0 484.1h0M175.8 488.7h0M187.5 456.7h0M178.0 481.3h0M170.2 483.6h0M174.2 482.7h0M182.6 472.8h0M186.9 458.9h0M193.1 491.7h0M186.3 458.9h0M168.7 487.1h0M184.3 465.5h0M184.0 464.3h0M187.0 457.3h0M186.6 457.8h0M171.0 482.8h0M175.9 490.2h0M176.6 484.2h0M193.7 494.6h0M174.0 492.3h0M192.1 492.8h0M194.6 498.3h0M174.3 490.9h0M172.2 490.5h0M177.1 492.4h0M176.3 492.8h0M194.7 496.3h0M179.3 491.8h0M194.0 495.0h0M193.5 494.7h0M192.3 494.5h0M192.5 493.4h0M178.1 451.6h0M176.5 455.6h0M177.9 447.8h0M183.9 452.5h0M184.0 454.9h0M179.1 455.6h0M178.6 447.8h0M176.3 453.6h0M180.4 450.2h0M186.5 502.8h0M175.0 492.3h0M173.0 492.0h0M186.7 499.2h0M189.2 496.7h0M172.1 490.5h0M195.5 497.7h0M177.8 500.7h0M192.3 493.8h0M174.6 499.6h0M182.1 498.1h0M172.1 490.2h0M193.1 499.8h0M191.2 495.0h0M191.0 498.1h0M171.4 492.6h0M190.0 493.7h0M178.0 500.9h0M186.1 505.5h0M176.3 499.7h0M182.3 499.1h0M180.6 497.2h0M174.9 492.6h0M194.3 494.5h0M185.4 496.7h0M186.5 497.1h0M194.6 497.2h0M186.4 504.0h0M172.0 490.0h0M174.4 497.9h0M183.2 504.6h0M174.7 493.5h0M176.0 495.4h0M193.0 499.3h0M195.4 498.8h0M176.6 497.7h0M188.7 504.0h0M180.6 491.9h0M194.2 501.5h0M173.5 500.4h0M180.3 496.1h0M173.3 496.3h0M186.7 504.0h0M176.3 495.0h0M191.2 507.5h0M181.0 499.9h0M175.7 503.9h0M176.4 500.4h0M182.6 499.4h0M180.8 494.2h0M175.7 498.7h0M182.6 501.2h0M179.6 500.2h0M182.5 495.7h0M186.9 496.3h0M177.4 500.0h0M186.2 497.7h0M182.8 499.6h0M183.8 495.3h0M187.5 494.3h0M177.3 503.4h0M192.0 502.4h0M179.1 504.4h0M191.4 498.6h0M174.3 500.7h0M187.4 502.5h0M181.8 502.6h0M171.7 491.3h0M185.2 493.0h0M191.3 498.6h0M186.1 496.1h0M179.2 492.1h0M174.5 495.1h0M178.2 502.6h0M179.7 493.6h0M187.7 496.2h0M180.8 505.2h0M175.8 493.5h0M177.6 496.7h0M190.7 501.9h0M186.0 500.5h0M190.5 498.7h0M187.7 497.9h0M187.7 494.3h0M185.7 501.9h0M172.8 496.3h0M191.9 506.0h0M192.1 503.0h0M190.5 503.8h0M178.0 499.3h0M177.6 494.6h0M193.6 493.4h0M183.6 499.1h0M184.7 504.0h0M185.3 500.8h0M194.6 501.2h0M193.8 494.2h0M188.6 497.2h0M179.7 493.8h0M180.5 491.7h0M185.0 497.9h0M195.7 497.2h0M189.5 492.3h0M177.6 476.2h0M191.3 496.4h0M182.3 503.2h0M182.0 496.6h0M177.9 499.8h0M188.6 494.8h0M193.2 496.3h0M190.3 496.3h0M180.1 494.0h0M190.6 499.8h0M189.8 493.9h0M181.9 504.1h0M175.4 506.1h0M181.3 499.2h0M184.6 496.0h0M183.6 492.9h0M187.7 505.7h0M171.7 495.7h0M175.0 492.8h0M180.1 497.1h0M189.0 495.8h0M177.2 495.2h0M185.5 501.3h0M181.8 495.8h0M177.6 499.1h0M183.7 502.8h0M182.8 500.7h0M177.7 500.2h0M188.3 502.9h0M192.3 493.7h0M193.1 494.8h0M193.7 497.0h0M173.3 492.9h0M183.8 525.4h0M178.9 492.7h0M186.6 497.2h0M180.4 497.0h0M190.0 495.4h0M181.7 504.8h0M189.0 502.6h0M193.0 499.4h0M174.5 493.4h0M187.4 504.1h0M190.7 501.8h0M189.9 500.2h0M190.4 493.4h0M188.4 496.5h0M193.7 497.5h0M183.2 517.7h0M186.9 493.0h0M191.7 504.1h0M188.2 517.7h0M180.9 523.7h0M178.9 505.4h0M186.1 505.3h0M186.6 506.9h0M187.5 504.7h0M181.3 507.4h0M183.7 524.2h0M192.6 504.5h0M188.7 508.8h0M186.2 508.7h0M192.9 505.4h0M179.5 510.3h0M167.6 483.1h0M192.4 460.9h0M193.1 468.9h0M194.2 486.5h0M192.9 470.4h0M193.5 479.3h0M192.7 481.4h0M194.9 478.4h0M193.4 479.9h0M189.8 457.7h0M193.8 487.3h0M191.0 459.6h0M193.5 462.2h0M193.1 465.9h0M190.5 458.1h0M195.0 474.5h0M193.2 465.3h0M194.9 492.3h0M194.4 477.8h0M168.4 483.9h0M193.0 469.4h0M191.6 459.6h0M192.2 461.0h0M192.6 459.9h0M194.0 472.9h0M170.0 485.8h0M190.3 458.4h0M194.5 484.5h0M192.4 482.8h0M192.8 464.9h0M206.5 463.7h0M192.9 461.4h0M193.4 469.4h0M193.4 469.5h0M192.5 465.1h0M194.4 469.6h0" stroke="#a3de00" stroke-width="2.35" stroke-linecap="round" fill="none"/>
<path d="M212.1 505.1h0M214.9 499.5h0M217.7 497.4h0M199.8 502.6h0M212.5 502.4h0M197.9 498.0h0M207.1 509.2h0M204.8 509.2h0M197.8 499.0h0M210.5 507.4h0M202.5 505.8h0M213.7 499.7h0M209.6 508.5h0M211.1 506.5h0M201.1 503.8h0M217.5 496.2h0M210.2 508.3h0M214.7 498.4h0M202.1 505.7h0M200.9 503.7h0M206.3 509.3h0M216.0 498.6h0M210.7 507.5h0M213.6 499.8h0M200.6 503.5h0M200.2 501.1h0M200.2 502.3h0M201.8 505.8h0M199.7 503.1h0M205.4 509.0h0M217.9 495.5h0M211.2 507.8h0M210.2 507.2h0M217.2 496.7h0M210.6 507.4h0M197.2 496.4h0M198.5 500.0h0M212.7 502.7h0M210.7 508.0h0M212.9 504.1h0M197.3 495.0h0M208.1 508.5h0M215.4 498.4h0M198.3 501.1h0M211.7 504.9h0M212.1 502.8h0M214.7 498.5h0M200.7 505.1h0M200.3 503.7h0M212.7 501.4h0M218.3 495.0h0M213.7 501.3h0M211.6 502.8h0M212.6 501.0h0M215.3 498.7h0M215.4 498.6h0M214.5 498.5h0M214.9 499.0h0M199.9 503.3h0M214.4 498.4h0M197.4 499.0h0M214.0 500.7h0M203.6 507.9h0M209.2 509.1h0M211.4 504.7h0M197.6 497.6h0M210.2 507.7h0M213.9 498.6h0M197.3 496.9h0M218.8 500.7h0M195.1 501.4h0M211.7 509.5h0M204.7 510.6h0M199.4 506.7h0M215.7 506.8h0M201.3 507.9h0M198.8 504.7h0M212.8 512.0h0M198.3 504.2h0M201.6 507.8h0M214.4 503.4h0M201.1 507.7h0M201.9 508.6h0M201.1 509.3h0M195.4 502.0h0M211.7 510.8h0M201.9 508.4h0M196.9 500.4h0M201.7 508.1h0M206.1 511.7h0M215.8 500.4h0M207.6 511.5h0M220.6 498.0h0M196.2 501.1h0M222.9 499.6h0M225.7 498.3h0M221.7 498.3h0M225.5 498.0h0M227.1 502.6h0M224.9 502.8h0M220.8 498.5h0M193.5 506.9h0M194.5 508.3h0M196.3 508.7h0M194.0 509.2h0M193.9 509.2h0M198.8 505.5h0M199.1 509.4h0M197.0 502.5h0M199.5 507.7h0M197.3 506.5h0M196.6 499.4h0M193.4 503.2h0M196.1 500.6h0M198.3 507.7h0M193.2 508.4h0M200.2 507.6h0M197.8 505.4h0M195.8 503.3h0M196.3 508.2h0M194.6 505.5h0M215.6 514.0h0M195.1 503.5h0M215.7 502.7h0M207.1 514.0h0M219.9 521.4h0M194.5 502.0h0M214.8 507.2h0M197.8 511.3h0M196.7 504.3h0M204.5 522.6h0M216.3 500.8h0M199.5 508.5h0M211.6 513.2h0M195.2 515.4h0M195.8 501.4h0M194.4 502.6h0M204.3 513.6h0M213.0 512.7h0M221.2 504.5h0M196.1 517.3h0M194.6 517.1h0M210.0 514.2h0M192.2 513.9h0M225.3 507.0h0M216.7 514.8h0M212.3 511.2h0M213.0 521.5h0M214.5 505.8h0M215.4 504.7h0M219.2 503.3h0M197.0 502.8h0M223.2 508.2h0M199.0 506.4h0M195.6 503.7h0M220.6 503.6h0M194.4 504.7h0M206.8 519.5h0M215.6 515.1h0M215.3 507.8h0M218.5 508.0h0M228.3 513.5h0M197.6 512.5h0M215.0 507.5h0M204.2 515.4h0M215.5 522.9h0M199.2 520.4h0M216.9 524.2h0M200.4 513.5h0M212.8 514.7h0M210.3 524.3h0M224.3 542.4h0M208.5 516.3h0M208.6 528.2h0M207.0 534.4h0M217.1 521.4h0M212.2 521.4h0M207.1 524.7h0M216.8 535.4h0M228.1 520.2h0M223.9 521.2h0M222.8 514.5h0M204.7 517.5h0M208.7 536.8h0M210.9 540.6h0M194.4 528.1h0M224.7 520.1h0M196.7 518.4h0M213.0 518.9h0M198.5 515.4h0M210.6 529.4h0M216.8 548.6h0M214.1 523.6h0M195.5 509.4h0M196.1 514.3h0M207.1 489.0h0M216.5 496.2h0M217.4 491.9h0M209.5 489.6h0M217.5 496.5h0M209.6 488.6h0M205.8 489.9h0M216.1 487.1h0M215.4 485.5h0M213.9 488.7h0M210.8 488.8h0M217.6 489.2h0M216.8 496.0h0M208.1 489.2h0M216.7 493.8h0M207.2 489.4h0M216.9 490.6h0M210.5 489.2h0M217.7 491.8h0M196.5 495.7h0M218.6 488.9h0M202.3 489.7h0M215.9 490.6h0" stroke="#ffe800" stroke-width="2.35" stroke-linecap="round" fill="none"/>
<rect x="59.8" y="369.4" width="181.7" height="276.6" fill="none" stroke="#4a4a4a" stroke-width="1"/>
<path d="M83.7 646.0v2.6M108.0 646.0v2.6M132.3 646.0v2.6M156.7 646.0v2.6M181.0 646.0v2.6M205.3 646.0v2.6M229.6 646.0v2.6M59.8 374.1h-2.6M59.8 410.6h-2.6M59.8 447.0h-2.6M59.8 483.4h-2.6M59.8 519.9h-2.6M59.8 556.3h-2.6M59.8 592.8h-2.6M59.8 629.2h-2.6" stroke="#4a4a4a" stroke-width="0.8" fill="none"/>
<g font-family="'DejaVu Sans','Liberation Sans',sans-serif" font-size="7.7" fill="#262626" stroke="#262626" stroke-width="0.15">
<text x="83.7" y="657.2" text-anchor="middle">−12.5</text>
<text x="108.0" y="657.2" text-anchor="middle">−10.0</text>
<text x="132.3" y="657.2" text-anchor="middle">−7.5</text>
<text x="156.7" y="657.2" text-anchor="middle">−5.0</text>
<text x="181.0" y="657.2" text-anchor="middle">−2.5</text>
<text x="205.3" y="657.2" text-anchor="middle">0.0</text>
<text x="229.6" y="657.2" text-anchor="middle">2.5</text>
<text x="54.3" y="376.9" text-anchor="end">4</text>
<text x="54.3" y="413.4" text-anchor="end">2</text>
<text x="54.3" y="449.8" text-anchor="end">0</text>
<text x="54.3" y="486.2" text-anchor="end">−2</text>
<text x="54.3" y="522.7" text-anchor="end">−4</text>
<text x="54.3" y="559.1" text-anchor="end">−6</text>
<text x="54.3" y="595.6" text-anchor="end">−8</text>
<text x="54.3" y="632.0" text-anchor="end">−10</text>
<text x="272.0" y="649.6">0</text>
<text x="272.0" y="618.9">1</text>
<text x="272.0" y="588.1">2</text>
<text x="272.0" y="557.4">3</text>
<text x="272.0" y="526.6">4</text>
<text x="272.0" y="495.9">5</text>
<text x="272.0" y="465.1">6</text>
<text x="272.0" y="434.4">7</text>
<text x="272.0" y="403.6">8</text>
<text x="272.0" y="372.9">9</text>
</g>
<rect x="252.3" y="369.4" width="14.7" height="276.7" fill="url(#vir)" stroke="#4a4a4a" stroke-width="0.8"/>
<path d="M267.0 646.1h2.6M267.0 615.4h2.6M267.0 584.6h2.6M267.0 553.9h2.6M267.0 523.1h2.6M267.0 492.4h2.6M267.0 461.6h2.6M267.0 430.9h2.6M267.0 400.1h2.6M267.0 369.4h2.6" stroke="#4a4a4a" stroke-width="0.8" fill="none"/>
<g font-family="'DejaVu Serif','Liberation Serif',serif" fill="#111" stroke="#111" stroke-width="0.25">
<text x="58.0" y="362.6" font-size="10.2" textLength="187.4" lengthAdjust="spacingAndGlyphs">Agglomerative Clustering  Results</text>
<text x="108.8" y="667.9" font-size="8.2" stroke-width="0.3" textLength="84.6" lengthAdjust="spacingAndGlyphs">Encoded Feature 1</text>
<text transform="translate(31.9 552.2) rotate(-90)" font-size="8.6" textLength="85.1" lengthAdjust="spacingAndGlyphs">Encoded Feature 2</text>
</g>
<text x="4.3" y="357.9" font-family="'DejaVu Sans','Liberation Sans',sans-serif" font-size="21.5" fill="#000" stroke="#000" stroke-width="0.45">(c)</text>
</g>
<g id="panel-d">
<path d="M469.9 407.1L469.9 407.2L469.9 407.3L468.2 413.8L469.6 417.0L471.8 417.0L471.0 405.5L470.0 405.6Z" fill="#a3de00" stroke="#a3de00" stroke-width="0.5"/>
<path d="M471.0 390.1L470.4 397.4L470.0 405.6L471.0 405.5L471.1 406.5L472.0 406.5L474.5 407.4L474.4 407.2L474.4 407.2L472.8 397.5L471.4 390.2L471.4 390.1L471.2 388.1L471.0 390.1Z" fill="#ffe800" stroke="#ffe800" stroke-width="0.5"/>
<path d="M468.1 446.0L470.5 448.2L472.9 446.0L472.5 438.0L468.0 438.5Z" fill="#009f89" stroke="#009f89" stroke-width="0.5"/>
<path d="M468.2 413.8L467.3 417.7L465.4 427.2L465.4 427.3L461.7 440.6L461.4 445.7L464.0 446.0L468.1 446.0L468.0 438.5L472.5 438.0L472.9 446.0L477.0 446.0L480.3 445.6L479.8 440.1L478.6 427.2L476.4 417.7L476.4 417.6L474.5 407.4L474.5 407.4L472.0 406.5L471.1 406.5L471.8 417.0L469.6 417.0Z" fill="#4e0055" stroke="#4e0055" stroke-width="0.5"/>
<path d="M477.0 446.0L472.9 446.0L470.5 448.2L468.1 446.0L464.0 446.0L462.7 445.8L463.0 450.0L464.5 454.0L468.0 457.5L472.0 457.8L475.5 456.0L478.0 451.0L478.3 445.8Z" fill="#50237b" stroke="#50237b" stroke-width="0.5"/>
<path d="M433.9 483.2L433.0 483.4L433.0 484.0L442.5 484.0L442.5 483.2Z" fill="#00b976" stroke="#00b976" stroke-width="0.5"/>
<path d="M461.3 446.8L461.3 446.9L461.2 447.0L461.2 447.1L457.4 452.5L457.3 452.5L453.0 458.0L450.5 463.0L449.9 468.3L449.4 473.7L449.4 473.8L449.4 473.9L449.3 474.0L447.6 478.4L447.6 478.5L447.5 478.6L447.4 478.7L447.4 478.8L443.6 482.8L443.5 482.9L443.4 483.0L443.3 483.0L443.2 483.1L443.1 483.1L442.9 483.2L442.8 483.2L442.7 483.2L442.5 483.2L442.5 484.0L433.0 484.0L433.0 483.4L428.4 484.6L428.5 484.7L436.4 487.9L444.2 490.3L454.0 490.3L454.1 490.3L454.2 490.3L460.2 491.3L460.3 491.3L460.4 491.4L460.5 491.4L460.6 491.5L460.7 491.6L460.8 491.6L460.9 491.7L461.0 491.8L461.1 491.9L464.1 497.4L464.1 497.5L467.0 504.3L471.6 508.9L475.7 509.7L478.3 507.4L478.4 505.7L478.4 505.6L478.4 505.5L478.5 505.3L480.7 499.9L480.7 499.8L480.8 499.7L480.9 499.6L481.0 499.5L481.1 499.5L486.6 495.1L486.6 495.0L490.5 492.0L491.5 488.4L489.9 482.1L489.9 481.9L489.0 473.8L487.9 468.4L486.4 461.4L484.7 457.8L484.7 457.7L482.5 452.2L482.5 452.2L480.4 446.4L480.3 446.3L480.3 446.2L480.3 446.1L480.3 445.6L478.3 445.8L478.0 451.0L475.5 456.0L472.0 457.8L468.0 457.5L464.5 454.0L463.0 450.0L462.7 445.8L461.4 445.7L461.4 446.5L461.4 446.6L461.4 446.7Z" fill="#37488c" stroke="#37488c" stroke-width="0.5"/>
<path d="M478.5 508.0L499.6 539.5" stroke="#37488c" stroke-width="1.8" stroke-linecap="round" fill="none"/>
<path d="M434.0 482.8L432.0 483.0L430.0 483.3L428.0 483.7L426.0 484.1L424.0 484.7L422.0 485.3L420.0 486.1L418.0 486.9L416.0 487.9L414.0 489.0L412.0 490.2L410.0 491.6L408.0 493.1" stroke="#37488c" stroke-width="1.5" stroke-linecap="round" fill="none"/>
<path d="M465.3 430.2h0M466.3 422.2h0M480.0 439.4h0M465.6 424.1h0M476.7 416.0h0M462.5 441.8h0M479.2 428.4h0M462.8 437.8h0M474.6 408.9h0M480.0 438.6h0M474.1 407.2h0M479.8 441.2h0M479.2 438.1h0M462.7 440.8h0M463.3 433.5h0M479.8 439.2h0M465.3 428.6h0M466.3 419.6h0M475.5 412.0h0M464.4 430.3h0M462.2 437.6h0M477.7 427.8h0M478.0 428.3h0M466.3 425.3h0M479.8 435.2h0M479.3 436.9h0M462.0 439.2h0M462.5 435.7h0M474.2 410.7h0M467.4 423.0h0M467.4 416.3h0M464.7 428.2h0M477.0 417.9h0M474.9 415.0h0M474.0 411.5h0M473.7 409.1h0M462.8 437.4h0M467.9 414.9h0M464.1 434.4h0M479.2 433.0h0M461.4 441.3h0M461.4 441.5h0M463.8 431.1h0M464.0 434.6h0M468.3 413.1h0M474.8 414.5h0M479.3 428.2h0M462.2 437.7h0M466.8 422.0h0M468.6 414.7h0M479.2 440.2h0M475.5 415.7h0M479.9 444.4h0M466.9 423.2h0M478.9 434.7h0M477.8 430.6h0M474.6 411.6h0M479.8 437.8h0M463.2 434.1h0M462.2 441.3h0M463.4 432.7h0M479.6 442.2h0M476.9 419.0h0M479.1 443.8h0M466.2 425.4h0M474.9 413.4h0M467.0 420.2h0M478.6 429.4h0M462.2 444.1h0M467.1 424.5h0M463.6 437.9h0M461.9 446.8h0M478.4 435.9h0M464.5 432.8h0M474.3 408.4h0M463.2 438.2h0M461.7 439.4h0M465.9 428.1h0M480.4 442.1h0M475.7 415.3h0M476.8 416.5h0M479.0 429.1h0M477.6 421.2h0M478.8 439.6h0M475.4 413.0h0M479.7 437.3h0M477.5 423.6h0M466.9 420.9h0M474.5 408.9h0M463.6 437.0h0M478.0 431.7h0M477.5 426.8h0M476.1 418.0h0M479.4 432.5h0M464.6 432.1h0M477.7 425.8h0M478.3 430.3h0M474.9 415.9h0M478.7 439.8h0M479.7 445.4h0M479.2 430.6h0M480.1 437.7h0M466.3 426.5h0M468.6 415.9h0M462.3 444.6h0M479.2 433.3h0M464.8 430.0h0M463.9 430.8h0M478.4 436.2h0M467.8 419.0h0M467.8 414.7h0M479.2 429.3h0M479.9 441.1h0M476.7 418.5h0M479.3 434.7h0M462.9 428.5h0M464.4 422.4h0M479.9 424.4h0M465.1 414.3h0M482.1 443.9h0M480.1 425.2h0M462.5 414.2h0M480.9 428.1h0M464.6 423.3h0M462.3 422.9h0M481.5 431.9h0M464.0 414.7h0M464.9 421.2h0M465.6 418.2h0M466.0 415.8h0M459.8 427.9h0M461.7 431.3h0M480.3 426.8h0M479.2 420.9h0M455.8 431.0h0M448.7 443.3h0M462.5 431.8h0M459.8 442.5h0M456.1 444.1h0M452.7 444.2h0M459.1 426.4h0M453.0 432.3h0M466.5 413.4h0M459.6 435.4h0M466.5 412.8h0M462.2 423.0h0M466.6 411.5h0M460.4 433.4h0M461.4 433.7h0M457.5 433.7h0M458.1 438.1h0M459.3 442.4h0M453.1 433.7h0M462.8 428.4h0M465.8 415.5h0M459.8 443.8h0M466.7 412.2h0M452.0 430.5h0M454.9 419.7h0M464.8 421.8h0M463.9 418.5h0M482.3 440.5h0M490.8 431.7h0M476.8 411.0h0M484.6 443.6h0M485.8 433.9h0M479.4 421.5h0M478.1 416.4h0M483.8 428.1h0M484.1 438.6h0M481.1 413.2h0M485.1 431.4h0M491.6 420.0h0M480.7 427.9h0M480.5 429.3h0M480.1 425.6h0M486.8 434.9h0M477.2 410.8h0M481.6 443.2h0M476.3 408.7h0M483.3 432.1h0M479.5 416.6h0M477.2 412.3h0M484.7 431.0h0M458.3 443.7h0M450.5 441.3h0M458.9 442.1h0M457.1 444.2h0M472.4 438.8h0M466.7 440.5h0M473.4 407.0h0M469.6 417.2h0M474.0 443.7h0M465.5 446.8h0M469.6 418.3h0M461.4 444.1h0M466.9 441.4h0M472.7 414.4h0M471.7 437.0h0M474.3 443.9h0M472.8 410.4h0M467.6 441.3h0" stroke="#4e0055" stroke-width="2.35" stroke-linecap="round" fill="none"/>
<path d="M462.5 445.5h0M476.8 449.3h0M464.9 445.9h0M467.3 446.0h0M470.1 446.4h0M463.2 450.9h0M467.8 446.5h0M465.5 454.6h0M470.3 458.4h0M474.7 446.1h0M477.1 451.3h0" stroke="#50237b" stroke-width="2.35" stroke-linecap="round" fill="none"/>
<path d="M485.4 494.8h0M478.8 505.1h0M452.0 460.3h0M460.4 491.0h0M490.2 485.1h0M481.6 499.5h0M484.4 497.4h0M466.5 502.6h0M479.2 502.4h0M448.1 476.9h0M451.5 461.5h0M448.3 489.7h0M456.6 491.1h0M464.6 498.0h0M450.9 467.0h0M451.4 464.4h0M452.0 460.6h0M481.0 446.8h0M440.9 483.8h0M447.1 478.2h0M486.6 494.1h0M490.7 485.1h0M490.1 490.0h0M489.8 484.7h0M473.8 509.2h0M451.0 463.9h0M471.5 509.2h0M447.7 490.4h0M448.6 475.0h0M456.0 489.9h0M460.4 449.2h0M487.0 465.9h0M484.5 495.4h0M455.3 490.3h0M490.9 491.0h0M484.7 458.7h0M451.2 489.4h0M438.9 487.6h0M464.5 499.0h0M488.8 479.1h0M487.3 463.5h0M485.4 459.9h0M441.0 488.4h0M459.6 491.6h0M487.2 464.0h0M430.2 484.6h0M460.7 448.2h0M428.2 484.9h0M448.6 476.1h0M447.5 479.0h0M446.1 480.6h0M486.8 466.7h0M485.6 462.0h0M453.2 457.2h0M477.2 507.4h0M488.3 477.5h0M469.2 505.8h0M480.4 499.7h0M450.7 463.4h0M485.1 460.9h0M476.3 508.5h0M477.8 506.5h0M491.4 490.1h0M467.8 503.8h0M483.0 452.3h0M441.0 482.8h0M484.6 456.9h0M450.9 490.5h0M463.4 494.9h0M484.2 496.2h0M450.5 472.2h0M476.9 508.3h0M480.6 447.0h0M486.2 465.5h0M481.4 498.4h0M450.4 463.8h0M441.4 484.4h0M485.5 459.5h0M450.3 490.3h0M488.5 475.9h0M468.8 505.7h0M448.7 478.5h0M453.2 489.1h0M445.2 481.5h0M435.0 486.3h0M444.3 483.8h0M455.9 456.1h0M489.0 493.1h0M467.6 503.7h0M449.8 465.8h0M484.0 455.3h0M452.6 457.6h0M452.7 458.0h0M473.0 509.3h0M486.5 465.6h0M482.7 498.6h0M461.7 491.9h0M477.4 507.5h0M454.6 489.7h0M452.2 461.7h0M480.3 499.8h0M463.7 496.7h0M486.6 463.1h0M441.8 484.3h0M441.3 489.9h0M437.7 487.1h0M445.5 481.3h0M452.2 460.7h0M467.3 503.5h0M452.8 489.7h0M462.6 494.3h0M459.6 451.3h0M430.9 484.3h0M445.9 481.7h0M445.3 490.3h0M480.5 448.2h0M466.9 501.1h0M441.1 489.8h0M466.9 502.3h0M437.2 487.3h0M446.7 481.2h0M449.4 471.3h0M468.5 505.8h0M466.4 503.1h0M456.8 453.4h0M489.0 481.7h0M472.1 509.0h0M488.0 472.4h0M491.1 484.9h0M488.9 472.4h0M463.2 495.0h0M459.6 448.9h0M432.4 484.8h0M483.9 458.7h0M491.0 490.3h0M489.3 478.7h0M461.1 448.2h0M437.3 488.0h0M455.3 454.5h0M484.6 495.5h0M489.2 492.9h0M491.3 489.8h0M487.8 471.9h0M460.9 448.4h0M477.9 507.8h0M476.9 507.2h0M488.6 477.2h0M432.0 485.5h0M483.9 496.7h0M477.3 507.4h0M432.6 486.8h0M448.8 489.3h0M433.2 487.1h0M444.2 489.2h0M449.5 473.3h0M483.1 456.4h0M484.2 459.5h0M447.0 489.8h0M488.1 467.3h0M455.3 455.1h0M488.7 481.0h0M450.3 462.2h0M452.2 460.3h0M456.4 491.0h0M451.9 459.3h0M452.1 461.6h0M449.2 490.5h0M449.9 468.1h0M455.3 456.9h0M487.2 494.1h0M461.8 446.0h0M489.2 481.2h0M442.0 489.8h0M489.4 493.3h0M449.7 470.1h0M487.7 466.0h0M463.9 496.4h0M449.5 468.7h0M432.2 486.7h0M465.2 500.0h0M449.3 475.2h0M483.5 457.0h0M479.4 502.7h0M444.9 482.2h0M451.2 464.3h0M455.7 491.0h0M460.7 492.5h0M477.4 508.0h0M459.8 450.5h0M488.4 471.9h0M479.6 504.1h0M488.5 470.8h0M485.0 459.9h0M438.6 487.9h0M464.0 495.0h0M448.8 489.8h0M490.4 485.2h0M482.2 453.6h0M449.1 474.2h0M447.2 490.6h0M446.7 479.9h0M446.1 481.5h0M474.8 508.5h0M429.6 485.0h0M482.1 498.4h0M465.0 501.1h0M478.4 504.9h0M484.2 455.9h0M434.5 487.2h0M431.9 485.7h0M460.5 449.9h0M485.4 458.2h0M488.6 478.2h0M488.9 472.1h0M431.8 485.8h0M478.8 502.8h0M430.7 484.0h0M451.9 489.7h0M441.4 488.2h0M490.7 487.6h0M486.8 461.6h0M484.9 457.6h0M483.3 453.3h0M443.5 484.3h0M432.4 483.1h0M463.4 493.9h0M481.4 498.5h0M490.2 492.0h0M449.6 472.8h0M467.4 505.1h0M453.3 459.6h0M461.5 448.7h0M488.7 493.3h0M432.3 483.9h0M453.3 459.9h0M455.9 454.5h0M467.0 503.7h0M481.2 449.7h0M431.3 483.5h0M485.8 462.4h0M479.4 501.4h0M445.7 489.5h0M485.0 495.0h0M480.4 501.3h0M487.4 471.5h0M485.7 462.2h0M436.7 484.1h0M488.6 474.5h0M478.3 502.8h0M479.3 501.0h0M482.0 498.7h0M442.5 488.7h0M482.1 498.6h0M461.7 447.0h0M461.5 447.2h0M459.6 450.2h0M481.2 498.5h0M454.2 456.7h0M487.4 471.1h0M430.0 485.1h0M490.6 487.5h0M481.6 499.0h0M458.8 452.1h0M444.7 481.3h0M466.6 503.3h0M489.2 476.4h0M485.9 463.1h0M485.1 496.4h0M491.8 489.4h0M481.1 498.4h0M464.1 499.0h0M449.3 472.8h0M487.6 468.1h0M480.7 500.7h0M453.6 458.9h0M456.9 455.0h0M456.7 454.7h0M470.3 507.9h0M489.3 473.2h0M481.6 449.3h0M475.9 509.1h0M485.9 464.3h0M459.8 491.7h0M453.0 458.9h0M435.4 487.1h0M486.1 494.2h0M451.0 465.5h0M485.6 459.2h0M456.8 453.3h0M478.1 504.7h0M487.9 471.8h0M490.0 484.8h0M450.7 464.3h0M453.7 457.3h0M453.3 457.8h0M464.3 497.6h0M461.2 446.7h0M462.2 494.3h0M476.9 507.7h0M480.6 498.6h0M442.6 490.2h0M489.3 475.7h0M483.0 456.5h0M464.0 496.9h0M482.1 452.1h0M443.3 484.2h0M485.5 500.7h0M461.8 501.4h0M478.4 509.5h0M471.4 510.6h0M466.1 506.7h0M482.4 506.8h0M489.9 463.2h0M433.9 492.9h0M468.0 507.9h0M460.4 494.6h0M440.7 492.3h0M465.5 504.7h0M458.8 492.8h0M488.2 459.5h0M487.2 458.9h0M479.5 512.0h0M461.3 498.3h0M465.0 504.2h0M492.6 485.3h0M441.0 490.9h0M468.3 507.8h0M481.1 503.4h0M467.8 507.7h0M488.9 464.1h0M438.9 490.5h0M434.7 490.9h0M468.6 508.6h0M443.8 492.4h0M467.8 509.3h0M492.4 476.1h0M462.1 502.0h0M478.4 510.8h0M489.1 465.6h0M494.3 490.2h0M443.0 492.8h0M483.7 449.4h0M468.6 508.4h0M463.6 500.4h0M461.4 496.3h0M446.0 491.8h0M488.1 457.4h0M460.7 495.0h0M490.2 466.7h0M460.2 494.7h0M468.4 508.1h0M491.2 471.7h0M459.0 494.5h0M459.2 493.4h0M486.7 458.2h0M472.8 511.7h0M492.7 484.6h0M483.1 448.7h0M482.5 500.4h0M474.3 511.5h0M487.3 498.0h0M491.5 471.9h0M462.9 501.1h0M435.1 489.3h0M491.7 462.4h0M492.5 484.6h0M487.0 497.3h0M457.9 446.8h0M458.6 446.2h0M455.1 452.6h0M458.0 446.2h0M455.6 451.9h0M485.0 449.0h0M484.4 447.3h0M485.3 451.4h0M488.8 450.2h0M485.5 454.9h0M490.8 469.6h0M489.0 496.5h0M489.6 499.6h0M492.4 498.3h0M492.0 492.9h0M491.0 458.4h0M483.6 449.2h0M491.2 479.7h0M483.4 448.9h0M491.3 470.0h0M492.5 465.3h0M495.8 491.4h0M490.3 456.6h0M486.3 453.1h0M484.4 446.6h0M492.9 494.5h0M491.6 476.7h0M493.4 470.5h0M491.1 471.1h0M490.8 493.9h0M488.4 498.3h0M490.4 494.8h0M485.2 450.1h0M493.2 483.4h0M493.1 485.1h0M492.2 498.0h0M494.7 470.7h0M492.6 480.3h0M493.6 467.9h0M492.9 455.2h0M493.6 491.5h0M489.1 459.8h0M492.3 471.2h0M484.6 452.4h0M491.4 455.0h0M485.5 453.8h0M485.5 450.5h0M484.9 453.3h0M494.2 481.0h0M489.9 458.5h0M494.6 493.1h0M491.1 454.4h0M490.3 467.4h0M495.2 492.8h0M490.0 496.6h0M502.4 493.1h0M482.4 447.3h0M492.5 471.5h0M485.8 454.0h0M489.5 458.1h0M492.7 480.7h0M496.0 457.1h0M483.9 448.5h0M493.8 502.6h0M493.0 477.0h0M492.7 483.6h0M493.3 479.0h0M492.8 483.9h0M495.8 485.5h0M491.6 502.8h0M487.5 452.2h0M491.3 473.1h0M487.5 498.5h0M491.2 473.4h0M489.3 453.5h0M489.8 468.6h0M486.8 451.9h0M482.5 447.2h0M485.8 452.6h0M489.3 463.2h0M496.5 481.6h0M496.0 485.9h0M490.9 493.6h0M498.1 464.2h0M444.8 451.6h0M454.9 447.0h0M443.2 455.6h0M444.6 447.8h0M450.6 452.5h0M450.7 454.9h0M445.8 455.6h0M445.3 447.8h0M443.0 453.6h0M447.1 450.2h0M426.2 493.6h0M453.2 502.8h0M441.7 492.3h0M439.7 492.0h0M453.4 499.2h0M455.9 496.7h0M438.8 490.5h0M460.2 506.9h0M435.0 494.2h0M438.6 498.9h0M439.4 500.0h0M427.4 486.5h0M428.3 492.0h0M462.2 497.7h0M444.5 500.7h0M459.0 493.8h0M461.2 508.3h0M463.0 508.7h0M441.3 499.6h0M448.8 498.1h0M438.8 490.2h0M459.8 499.8h0M457.9 495.0h0M457.7 498.1h0M438.1 492.6h0M456.7 493.7h0M444.7 500.9h0M452.8 505.5h0M428.1 490.9h0M443.0 499.7h0M433.1 490.4h0M420.6 488.3h0M449.0 499.1h0M447.3 497.2h0M460.7 509.2h0M423.9 492.1h0M441.6 492.6h0M461.0 494.5h0M422.2 489.2h0M452.1 496.7h0M427.6 497.0h0M453.2 497.1h0M426.6 490.7h0M434.3 494.5h0M460.6 509.2h0M461.3 497.2h0M453.1 504.0h0M438.7 490.0h0M441.1 497.9h0M430.4 491.4h0M465.5 505.5h0M449.9 504.6h0M465.8 509.4h0M441.4 493.5h0M442.7 495.4h0M459.7 499.3h0M429.4 496.9h0M463.7 502.5h0M462.1 498.8h0M466.2 507.7h0M443.3 497.7h0M432.4 500.2h0M426.7 493.0h0M455.4 504.0h0M447.3 491.9h0M460.9 501.5h0M440.2 500.4h0M439.5 502.8h0M431.9 496.2h0M447.0 496.1h0M438.9 501.9h0M440.0 496.3h0M453.4 504.0h0M464.0 506.5h0M435.6 501.4h0M443.0 495.0h0M457.9 507.5h0M425.4 484.7h0M463.3 499.4h0M447.7 499.9h0M442.4 503.9h0M443.1 500.4h0M431.3 498.3h0M423.9 490.8h0M449.3 499.4h0M447.5 494.2h0M442.4 498.7h0M449.3 501.2h0M437.8 493.2h0M446.3 500.2h0M449.2 495.7h0M422.5 494.0h0M453.6 496.3h0M444.1 500.0h0M436.5 498.9h0M452.9 497.7h0M423.2 487.8h0M449.5 499.6h0M450.5 495.3h0M454.2 494.3h0M444.0 503.4h0M432.1 489.3h0M458.7 502.4h0M445.8 504.4h0M433.6 493.8h0M458.1 498.6h0M460.1 503.2h0M432.1 488.4h0M422.8 494.3h0M441.0 500.7h0M454.1 502.5h0M429.7 492.8h0M432.9 488.3h0M426.0 487.1h0M448.5 502.6h0M462.8 500.6h0M465.0 507.7h0M459.9 508.4h0M438.4 491.3h0M439.2 499.4h0M451.9 493.0h0M458.0 498.6h0M435.5 490.5h0M452.8 496.1h0M445.9 492.1h0M441.2 495.1h0M428.3 495.9h0M444.9 502.6h0M446.4 493.6h0M454.4 496.2h0M429.2 491.9h0M447.5 505.2h0M442.5 493.5h0M425.0 489.7h0M424.4 485.6h0M466.9 507.6h0M425.8 488.9h0M464.5 505.4h0M427.8 490.0h0M462.5 503.3h0M444.3 496.7h0M457.4 501.9h0M452.7 500.5h0M457.2 498.7h0M454.4 497.9h0M427.7 495.3h0M454.4 494.3h0M452.4 501.9h0M431.3 495.3h0M438.8 499.3h0M439.5 496.3h0M458.6 506.0h0M458.8 503.0h0M436.0 501.5h0M432.7 488.3h0M457.2 503.8h0M428.9 491.6h0M444.7 499.3h0M444.3 494.6h0M460.3 493.4h0M450.3 499.1h0M463.0 508.2h0M451.4 504.0h0M452.0 500.8h0M461.3 501.2h0M428.4 491.7h0M460.5 494.2h0M455.3 497.2h0M446.4 493.8h0M461.3 505.5h0M430.6 496.4h0M447.2 491.7h0M428.2 491.8h0M428.4 486.7h0M451.7 497.9h0M435.0 491.4h0M462.4 497.2h0M434.7 496.6h0M456.2 492.3h0M426.4 495.7h0M444.3 476.2h0M482.3 514.0h0M458.0 496.4h0M461.8 503.5h0M482.4 502.7h0M449.0 503.2h0M448.7 496.6h0M439.2 496.9h0M444.6 499.8h0M473.8 514.0h0M455.3 494.8h0M459.9 496.3h0M486.6 521.4h0M457.0 496.3h0M446.8 494.0h0M457.3 499.8h0M456.5 493.9h0M439.0 499.8h0M439.2 501.6h0M461.2 502.0h0M481.5 507.2h0M448.6 504.1h0M442.1 506.1h0M464.5 511.3h0M448.0 499.2h0M463.4 504.3h0M471.2 522.6h0M483.0 500.8h0M466.2 508.5h0M478.3 513.2h0M451.3 496.0h0M461.9 515.4h0M450.3 492.9h0M454.4 505.7h0M438.4 495.7h0M462.5 501.4h0M441.7 492.8h0M496.0 481.0h0M461.1 502.6h0M471.0 513.6h0M479.7 512.7h0M446.8 497.1h0M455.7 495.8h0M487.9 504.5h0M443.9 495.2h0M462.8 517.3h0M452.2 501.3h0M448.5 495.8h0M444.3 499.1h0M450.4 502.8h0M461.3 517.1h0M449.5 500.7h0M476.7 514.2h0M458.9 513.9h0M492.0 507.0h0M444.4 500.2h0M455.0 502.9h0M483.4 514.8h0M459.0 493.7h0M479.0 511.2h0M479.7 521.5h0M459.8 494.8h0M460.4 497.0h0M481.2 505.8h0M440.0 492.9h0M482.1 504.7h0M450.5 525.4h0M485.9 503.3h0M445.6 492.7h0M463.7 502.8h0M453.3 497.2h0M447.1 497.0h0M489.9 508.2h0M456.7 495.4h0M465.7 506.4h0M448.4 504.8h0M462.3 503.7h0M487.3 503.6h0M455.7 502.6h0M459.7 499.4h0M437.9 496.9h0M461.1 504.7h0M441.2 493.4h0M473.5 519.5h0M482.3 515.1h0M454.1 504.1h0M482.0 507.8h0M457.4 501.8h0M456.6 500.2h0M485.2 508.0h0M457.1 493.4h0M495.0 513.5h0M464.3 512.5h0M455.1 496.5h0M481.7 507.5h0M460.4 497.5h0M449.9 517.7h0M453.6 493.0h0M470.9 515.4h0M458.4 504.1h0M482.2 522.9h0M465.9 520.4h0M483.6 524.2h0M467.1 513.5h0M479.5 514.7h0M477.0 524.3h0M491.0 542.4h0M475.2 516.3h0M475.3 528.2h0M473.7 534.4h0M483.8 521.4h0M478.9 521.4h0M473.8 524.7h0M483.5 535.4h0M494.8 520.2h0M490.6 521.2h0M489.5 514.5h0M471.4 517.5h0M475.4 536.8h0M477.6 540.6h0M461.1 528.1h0M491.4 520.1h0M463.4 518.4h0M479.7 518.9h0M465.2 515.4h0M477.3 529.4h0M483.5 548.6h0M480.8 523.6h0M454.9 517.7h0M447.6 523.7h0M445.6 505.4h0M452.8 505.3h0M437.1 510.5h0M453.3 506.9h0M454.2 504.7h0M448.0 507.4h0M423.3 508.1h0M462.2 509.4h0M438.8 503.5h0M450.4 524.2h0M427.4 512.4h0M419.6 508.5h0M416.7 519.6h0M417.0 511.6h0M462.8 514.3h0M418.3 505.3h0M421.1 505.3h0M459.3 504.5h0M414.4 510.5h0M455.4 508.8h0M452.9 508.7h0M459.6 505.4h0M446.2 510.3h0M426.7 512.5h0M399.4 500.7h0M386.4 519.5h0M398.7 502.1h0M405.2 495.6h0M405.8 494.9h0M404.1 496.7h0M407.4 493.5h0M405.0 495.5h0M401.4 498.7h0M387.7 517.5h0M397.0 504.3h0M406.7 494.4h0M402.5 497.8h0M404.6 496.3h0M400.7 499.9h0M406.0 495.0h0M402.2 498.2h0M394.5 507.0h0M387.3 517.7h0M425.6 486.2h0M426.6 487.1h0M414.8 500.0h0M432.9 483.9h0M423.3 486.1h0M428.8 485.5h0M413.9 494.0h0M416.1 514.2h0M416.1 501.1h0M418.2 487.5h0M415.2 507.4h0M417.8 490.8h0M403.0 501.9h0M426.3 489.2h0M403.0 515.5h0M424.6 486.1h0M432.5 483.1h0M411.8 515.2h0M423.4 492.9h0M431.0 484.1h0M424.7 497.0h0M431.1 483.4h0M427.9 487.4h0M424.5 490.3h0M422.3 487.5h0M423.7 490.4h0M419.8 489.8h0M429.1 488.7h0M427.4 484.0h0M424.8 504.7h0M430.5 484.1h0M421.6 520.4h0M430.0 484.8h0M414.2 509.9h0M424.2 485.6h0M425.1 485.9h0M423.4 492.4h0M419.6 495.4h0M431.8 486.7h0M422.0 486.8h0M405.1 514.0h0M420.2 488.8h0M415.8 494.4h0M402.5 517.7h0M396.5 519.2h0M417.6 496.2h0M422.1 491.8h0M427.9 491.2h0M428.6 484.0h0M423.1 485.2h0M422.9 503.6h0M421.3 490.1h0M425.4 500.8h0M422.5 485.4h0M420.0 509.4h0M397.1 516.6h0M427.3 487.7h0M419.1 496.1h0M414.8 506.0h0M424.9 485.5h0M421.8 486.5h0M431.5 483.5h0M426.8 490.2h0M406.3 519.9h0M421.2 485.5h0M428.1 487.8h0M415.9 502.7h0M419.3 493.5h0M420.2 507.0h0M423.9 502.5h0M427.1 484.4h0M430.3 484.2h0M415.3 495.1h0M431.9 486.2h0M421.1 492.3h0M425.8 486.7h0M418.1 497.6h0M415.9 506.1h0M423.1 485.7h0M422.7 502.4h0M419.4 494.0h0M430.7 489.8h0M423.8 488.6h0M428.4 483.7h0M431.9 483.8h0M418.1 497.7h0M411.8 512.1h0M426.7 485.6h0M416.0 505.0h0M419.3 487.9h0M408.7 492.6h0M417.2 490.7h0M422.9 494.7h0M415.3 513.9h0M415.0 489.6h0M398.8 508.2h0M423.7 489.7h0M398.8 519.4h0M403.4 512.4h0M422.2 492.9h0M419.1 490.8h0M432.7 483.0h0M411.0 495.8h0M427.1 485.8h0M417.1 495.0h0M422.8 491.2h0M427.1 497.0h0M427.0 488.1h0M427.2 486.9h0M426.3 495.6h0M423.7 489.3h0M428.3 484.1h0M427.6 484.2h0M427.9 484.1h0M423.3 485.9h0M418.5 488.6h0M423.6 485.8h0M414.8 491.6h0M422.1 486.6h0M420.8 487.0h0M425.9 485.1h0M418.9 488.6h0M429.9 483.7h0M427.8 484.0h0M415.7 494.0h0M406.5 507.3h0M426.8 485.3h0M422.9 487.9h0M429.2 484.0h0M422.4 488.2h0M401.8 515.8h0M416.3 493.5h0M418.2 491.7h0M413.2 497.8h0M418.0 491.5h0M425.4 486.3h0M428.5 484.8h0M406.5 514.9h0M417.8 494.9h0M421.9 490.2h0M427.9 486.3h0M421.7 489.9h0M420.6 491.5h0M420.7 491.7h0M427.4 486.2h0M425.2 489.3h0M417.2 500.2h0M420.6 495.0h0M426.6 487.2h0M413.7 506.9h0M424.7 488.7h0M412.7 508.8h0M425.8 488.4h0M421.4 497.2h0M428.2 488.4h0M428.1 488.1h0M428.3 487.4h0M422.8 494.3h0M421.0 497.5h0M421.7 495.8h0M413.6 514.7h0M414.4 512.9h0M423.2 493.4h0M428.7 486.7h0M421.9 499.8h0M424.5 494.3h0M427.0 490.8h0M427.7 489.9h0M422.0 499.8h0M415.5 516.9h0M428.8 488.3h0M418.9 514.0h0M423.4 500.5h0M421.9 504.2h0M417.6 518.6h0M424.0 498.7h0M424.2 498.3h0M426.0 495.2h0M334.8 633.1h0M334.4 617.3h0M350.4 610.5h0M366.8 602.3h0M352.6 594.7h0M341.8 582.5h0M360.4 577.9h0M384.4 582.5h0M380.8 578.9h0M377.6 566.3h0M384.8 563.3h0M366.2 545.5h0M376.8 547.7h0M396.8 556.1h0M400.6 553.1h0M412.8 553.5h0M399.8 547.5h0M388.0 543.3h0M400.8 542.3h0M402.0 540.7h0M385.4 537.9h0M382.4 535.5h0M396.8 534.3h0M424.6 534.9h0M386.8 532.3h0M400.4 531.9h0M383.8 529.9h0M404.4 529.3h0M425.8 528.5h0M395.8 527.5h0M427.8 526.9h0M407.4 526.3h0M411.8 526.3h0M383.2 525.5h0M408.4 523.9h0M397.8 522.9h0M415.8 522.3h0M419.8 521.9h0M424.2 521.5h0M400.8 520.9h0M408.4 520.9h0M435.8 524.9h0M435.7 484.6h0M463.0 453.8h0M463.4 449.6h0M464.6 455.2h0M474.2 457.6h0M461.4 447.6h0M462.9 446.0h0M476.5 455.5h0M466.1 457.1h0M462.2 448.4h0M439.6 485.3h0M466.2 456.3h0M462.8 449.8h0M469.0 458.5h0M438.0 484.1h0M463.3 450.7h0M479.1 446.5h0M462.0 450.8h0M433.4 483.7h0" stroke="#37488c" stroke-width="2.35" stroke-linecap="round" fill="none"/>
<path d="M472.4 442.3h0M470.3 438.3h0M467.9 444.1h0M472.1 439.3h0M469.6 442.9h0M467.6 438.9h0M469.0 440.6h0M472.3 446.3h0M471.2 440.0h0M470.9 438.7h0" stroke="#009f89" stroke-width="2.35" stroke-linecap="round" fill="none"/>
<path d="M441.3 483.4h0M436.5 483.1h0M439.4 483.6h0M437.9 482.7h0M441.4 483.7h0M433.7 482.7h0M436.6 483.5h0M437.3 483.0h0M442.1 483.5h0M436.9 483.6h0M440.9 482.7h0M437.7 482.8h0M433.3 483.7h0M434.3 483.1h0M434.0 483.5h0M436.6 483.6h0M440.0 484.4h0M437.1 483.9h0" stroke="#00b976" stroke-width="2.35" stroke-linecap="round" fill="none"/>
<path d="M470.1 409.3h0M469.5 408.4h0M469.8 411.7h0M469.2 412.7h0M469.9 405.7h0M469.0 411.3h0M470.1 407.5h0M471.0 406.7h0M468.7 410.1h0M470.7 407.5h0M470.4 407.2h0M470.2 407.1h0M469.0 411.0h0M469.3 411.2h0M467.5 407.4h0M468.3 406.4h0M470.9 407.0h0M469.4 406.6h0M470.9 406.4h0M471.0 407.9h0M469.3 414.2h0M470.6 413.6h0M469.3 414.3h0M470.5 413.0h0M469.1 416.5h0" stroke="#a3de00" stroke-width="2.35" stroke-linecap="round" fill="none"/>
<path d="M473.3 396.9h0M473.8 400.6h0M471.0 396.5h0M471.6 396.6h0M470.2 400.3h0M472.5 401.0h0M470.3 396.4h0M472.9 404.6h0M469.7 401.1h0M470.0 396.1h0M471.2 405.7h0M471.2 404.2h0M470.8 394.3h0M471.1 389.2h0M471.8 391.3h0M473.3 403.5h0M472.8 400.2h0M472.1 392.0h0M470.2 398.8h0M470.9 401.3h0M469.9 399.1h0M473.0 402.8h0M471.7 395.0h0M470.9 406.4h0M471.1 389.6h0M470.5 391.2h0M470.6 388.7h0M470.3 405.3h0M471.6 393.4h0M473.0 401.5h0M471.5 395.2h0M473.5 403.9h0M471.3 396.4h0M473.1 397.3h0M472.6 394.2h0M473.2 399.2h0M469.9 401.4h0M472.2 397.2h0M472.0 395.8h0M469.7 400.2h0M471.4 385.5h0M470.5 391.1h0M472.3 398.2h0M473.2 400.5h0M473.0 404.9h0M471.2 387.9h0M473.4 402.6h0M472.8 400.3h0M471.3 385.2h0M469.6 402.5h0M472.8 404.2h0M471.0 402.7h0M471.0 397.3h0M471.4 392.4h0M470.9 399.7h0M472.0 398.0h0M473.1 402.0h0M470.3 400.9h0M471.6 395.6h0M470.6 401.4h0M471.2 396.9h0M468.8 395.6h0M469.1 394.8h0M467.7 400.0h0M468.6 393.9h0M468.5 397.1h0M467.9 397.5h0M467.9 398.8h0M468.3 404.0h0M474.4 395.0h0M476.6 405.1h0M475.6 403.2h0M475.7 403.9h0M475.2 401.5h0M475.8 401.6h0M475.0 400.0h0M475.7 405.1h0M475.8 403.0h0M471.9 387.8h0M471.3 396.6h0M472.1 399.2h0M470.7 386.7h0M473.4 406.1h0M470.7 392.4h0M471.3 394.2h0M471.9 389.9h0M470.6 391.1h0M470.3 383.0h0M471.0 403.8h0M470.8 400.9h0M470.4 403.5h0M472.3 396.9h0M471.2 381.3h0M470.5 405.9h0M471.4 401.2h0M471.1 394.7h0M471.9 393.9h0M470.9 397.3h0M472.6 399.8h0M471.3 395.1h0M470.8 390.0h0M470.9 382.8h0M470.9 391.2h0M471.7 383.2h0M471.3 390.7h0M471.2 403.7h0M472.2 394.1h0M470.8 398.9h0M470.4 392.0h0M472.2 395.4h0M471.1 388.1h0M472.3 400.9h0M469.9 390.7h0M472.0 392.6h0M471.1 391.2h0M471.3 385.0h0M471.1 386.7h0M474.1 403.8h0M471.0 395.8h0M471.4 384.8h0M472.1 400.8h0M470.4 395.0h0M470.1 396.5h0M471.1 384.5h0M471.4 385.4h0M472.2 398.2h0M471.0 398.3h0M471.4 391.1h0M470.4 402.1h0M471.8 386.6h0M470.8 384.9h0M471.3 382.3h0M471.1 394.6h0M472.4 395.9h0M470.8 397.9h0M471.4 383.8h0M471.3 403.8h0M470.8 387.0h0M471.5 386.9h0M471.6 405.7h0" stroke="#ffe800" stroke-width="2.35" stroke-linecap="round" fill="none"/>
<path d="M433.2 482.9h9.8" stroke="#27ad81" stroke-width="2.2" fill="none"/>
<rect x="326.5" y="369.4" width="181.9" height="277.0" fill="none" stroke="#4a4a4a" stroke-width="1"/>
<path d="M350.4 646.4v2.6M374.7 646.4v2.6M399.0 646.4v2.6M423.4 646.4v2.6M447.7 646.4v2.6M472.0 646.4v2.6M496.3 646.4v2.6M326.5 374.1h-2.6M326.5 410.6h-2.6M326.5 447.0h-2.6M326.5 483.4h-2.6M326.5 519.9h-2.6M326.5 556.3h-2.6M326.5 592.8h-2.6M326.5 629.2h-2.6" stroke="#4a4a4a" stroke-width="0.8" fill="none"/>
<g font-family="'DejaVu Sans','Liberation Sans',sans-serif" font-size="7.7" fill="#262626" stroke="#262626" stroke-width="0.15">
<text x="350.4" y="657.6" text-anchor="middle">−12.5</text>
<text x="374.7" y="657.6" text-anchor="middle">−10.0</text>
<text x="399.0" y="657.6" text-anchor="middle">−7.5</text>
<text x="423.4" y="657.6" text-anchor="middle">−5.0</text>
<text x="447.7" y="657.6" text-anchor="middle">−2.5</text>
<text x="472.0" y="657.6" text-anchor="middle">0.0</text>
<text x="496.3" y="657.6" text-anchor="middle">2.5</text>
<text x="321.0" y="376.9" text-anchor="end">4</text>
<text x="321.0" y="413.4" text-anchor="end">2</text>
<text x="321.0" y="449.8" text-anchor="end">0</text>
<text x="321.0" y="486.2" text-anchor="end">−2</text>
<text x="321.0" y="522.7" text-anchor="end">−4</text>
<text x="321.0" y="559.1" text-anchor="end">−6</text>
<text x="321.0" y="595.6" text-anchor="end">−8</text>
<text x="321.0" y="632.0" text-anchor="end">−10</text>
<text x="538.8" y="650.0">0</text>
<text x="538.8" y="619.2">1</text>
<text x="538.8" y="588.4">2</text>
<text x="538.8" y="557.6">3</text>
<text x="538.8" y="526.8">4</text>
<text x="538.8" y="496.1">5</text>
<text x="538.8" y="465.3">6</text>
<text x="538.8" y="434.5">7</text>
<text x="538.8" y="403.7">8</text>
<text x="538.8" y="372.9">9</text>
</g>
<rect x="519.1" y="369.4" width="13.7" height="277.1" fill="url(#vir)" stroke="#4a4a4a" stroke-width="0.8"/>
<path d="M532.8 646.5h2.6M532.8 615.7h2.6M532.8 584.9h2.6M532.8 554.1h2.6M532.8 523.3h2.6M532.8 492.6h2.6M532.8 461.8h2.6M532.8 431.0h2.6M532.8 400.2h2.6M532.8 369.4h2.6" stroke="#4a4a4a" stroke-width="0.8" fill="none"/>
<g font-family="'DejaVu Serif','Liberation Serif',serif" fill="#111" stroke="#111" stroke-width="0.25">
<text x="338.7" y="362.5" font-size="10.2" textLength="152.7" lengthAdjust="spacingAndGlyphs">Spectral Clustering  Results</text>
<text x="378.2" y="667.9" font-size="8.2" stroke-width="0.3" textLength="84.1" lengthAdjust="spacingAndGlyphs">Encoded Feature 1</text>
<text transform="translate(291.4 544.4) rotate(-90)" font-size="8.6" textLength="85.1" lengthAdjust="spacingAndGlyphs">Encoded Feature 2</text>
</g>
<text x="275.3" y="362.3" font-family="'DejaVu Sans','Liberation Sans',sans-serif" font-size="21.5" fill="#000" stroke="#000" stroke-width="0.45">(d)</text>
</g>
</svg>
</body></html>
